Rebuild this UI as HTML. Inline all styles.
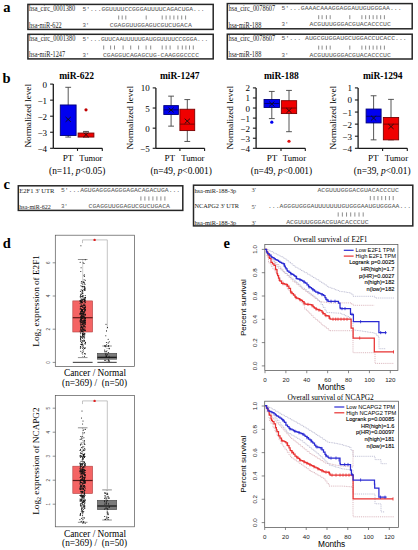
<!DOCTYPE html>
<html><head><meta charset="utf-8"><style>
html,body{margin:0;padding:0;background:#fff;}
svg{display:block;}
text{white-space:pre;}
</style></head><body>
<svg width="418" height="550" viewBox="0 0 418 550">
<rect width="418" height="550" fill="#fff"/>
<text x="3.2" y="11.6" font-size="14.5" font-family="Liberation Serif" fill="#000" text-anchor="start" font-weight="bold" >a</text>
<text x="2.4" y="82.5" font-size="14.5" font-family="Liberation Serif" fill="#000" text-anchor="start" font-weight="bold" >b</text>
<text x="3.4" y="188.8" font-size="14.5" font-family="Liberation Serif" fill="#000" text-anchor="start" font-weight="bold" >c</text>
<text x="2.8" y="248.3" font-size="14.5" font-family="Liberation Serif" fill="#000" text-anchor="start" font-weight="bold" >d</text>
<text x="223.6" y="248.3" font-size="14.5" font-family="Liberation Serif" fill="#000" text-anchor="start" font-weight="bold" >e</text>
<rect x="27.9" y="4.4" width="185.29999999999998" height="25.0" stroke="#262626" stroke-width="1.5" fill="none" />
<text x="29.099999999999998" y="11.2" font-size="7.5" font-family="Liberation Serif" fill="#1a1a1a" textLength="46.0" lengthAdjust="spacingAndGlyphs">hsa_circ_0001380</text>
<text x="29.099999999999998" y="28.0" font-size="7.5" font-family="Liberation Serif" fill="#1a1a1a" textLength="32.6" lengthAdjust="spacingAndGlyphs">hsa-miR-622</text>
<text x="82.4" y="10.8" font-size="5.8" font-family="Liberation Mono" fill="#555555" textLength="122.19999999999999" lengthAdjust="spacingAndGlyphs">5'...GGUUUUCCGGGAUUUUCAGACUGA...</text>
<text x="82.4" y="27.4" font-size="5.8" font-family="Liberation Mono" fill="#555555" text-anchor="start" font-weight="normal" >3'</text>
<text x="109.8" y="27.4" font-size="5.8" font-family="Liberation Mono" fill="#555555" textLength="82.00000000000001" lengthAdjust="spacingAndGlyphs">CGAGGUUGGAGUCGUCUGACA</text>
<line x1="118.7" y1="15.5" x2="118.7" y2="19.5" stroke="#7a7a7a" stroke-width="0.85" />
<line x1="122.2" y1="15.5" x2="122.2" y2="19.5" stroke="#7a7a7a" stroke-width="0.85" />
<line x1="125.8" y1="15.5" x2="125.8" y2="19.5" stroke="#7a7a7a" stroke-width="0.85" />
<line x1="146.2" y1="15.5" x2="146.2" y2="19.5" stroke="#7a7a7a" stroke-width="0.85" />
<line x1="162.2" y1="15.5" x2="162.2" y2="19.5" stroke="#7a7a7a" stroke-width="0.85" />
<line x1="166.1" y1="15.5" x2="166.1" y2="19.5" stroke="#7a7a7a" stroke-width="0.85" />
<line x1="170.0" y1="15.5" x2="170.0" y2="19.5" stroke="#7a7a7a" stroke-width="0.85" />
<line x1="173.89999999999998" y1="15.5" x2="173.89999999999998" y2="19.5" stroke="#7a7a7a" stroke-width="0.85" />
<line x1="177.79999999999998" y1="15.5" x2="177.79999999999998" y2="19.5" stroke="#7a7a7a" stroke-width="0.85" />
<line x1="181.7" y1="15.5" x2="181.7" y2="19.5" stroke="#7a7a7a" stroke-width="0.85" />
<line x1="185.6" y1="15.5" x2="185.6" y2="19.5" stroke="#7a7a7a" stroke-width="0.85" />
<rect x="27.9" y="34.3" width="185.29999999999998" height="24.6" stroke="#262626" stroke-width="1.5" fill="none" />
<text x="29.099999999999998" y="40.9" font-size="7.5" font-family="Liberation Serif" fill="#1a1a1a" textLength="46.2" lengthAdjust="spacingAndGlyphs">hsa_circ_0001380</text>
<text x="29.099999999999998" y="57.4" font-size="7.5" font-family="Liberation Serif" fill="#1a1a1a" textLength="36.0" lengthAdjust="spacingAndGlyphs">hsa-miR-1247</text>
<text x="82.4" y="40.5" font-size="5.8" font-family="Liberation Mono" fill="#555555" textLength="125.79999999999998" lengthAdjust="spacingAndGlyphs">5'...GUUCAAUUUUUGAUGGUUUUCCGGGA...</text>
<text x="82.4" y="57.0" font-size="5.8" font-family="Liberation Mono" fill="#555555" text-anchor="start" font-weight="normal" >3'</text>
<text x="103" y="57.0" font-size="5.8" font-family="Liberation Mono" fill="#555555" textLength="96" lengthAdjust="spacingAndGlyphs">CGAGGUCAGAGCUG-CAAGGGCCCC</text>
<line x1="103.7" y1="45.5" x2="103.7" y2="49.5" stroke="#7a7a7a" stroke-width="0.85" />
<line x1="110.6" y1="45.5" x2="110.6" y2="49.5" stroke="#7a7a7a" stroke-width="0.85" />
<line x1="114.5" y1="45.5" x2="114.5" y2="49.5" stroke="#7a7a7a" stroke-width="0.85" />
<line x1="123.1" y1="45.5" x2="123.1" y2="49.5" stroke="#7a7a7a" stroke-width="0.85" />
<line x1="130.7" y1="45.5" x2="130.7" y2="49.5" stroke="#7a7a7a" stroke-width="0.85" />
<line x1="138.6" y1="45.5" x2="138.6" y2="49.5" stroke="#7a7a7a" stroke-width="0.85" />
<line x1="146.1" y1="45.5" x2="146.1" y2="49.5" stroke="#7a7a7a" stroke-width="0.85" />
<line x1="150.7" y1="45.5" x2="150.7" y2="49.5" stroke="#7a7a7a" stroke-width="0.85" />
<line x1="162.2" y1="45.5" x2="162.2" y2="49.5" stroke="#7a7a7a" stroke-width="0.85" />
<line x1="166.1" y1="45.5" x2="166.1" y2="49.5" stroke="#7a7a7a" stroke-width="0.85" />
<line x1="170.1" y1="45.5" x2="170.1" y2="49.5" stroke="#7a7a7a" stroke-width="0.85" />
<line x1="178" y1="45.5" x2="178" y2="49.5" stroke="#7a7a7a" stroke-width="0.85" />
<line x1="182.3" y1="45.5" x2="182.3" y2="49.5" stroke="#7a7a7a" stroke-width="0.85" />
<line x1="185.9" y1="45.5" x2="185.9" y2="49.5" stroke="#7a7a7a" stroke-width="0.85" />
<line x1="189.5" y1="45.5" x2="189.5" y2="49.5" stroke="#7a7a7a" stroke-width="0.85" />
<line x1="193.3" y1="45.5" x2="193.3" y2="49.5" stroke="#7a7a7a" stroke-width="0.85" />
<rect x="227.3" y="3.6" width="184.89999999999998" height="25.2" stroke="#262626" stroke-width="1.5" fill="none" />
<text x="228.5" y="11.2" font-size="7.5" font-family="Liberation Serif" fill="#1a1a1a" textLength="46.7" lengthAdjust="spacingAndGlyphs">hsa_circ_0078607</text>
<text x="228.5" y="27.6" font-size="7.5" font-family="Liberation Serif" fill="#1a1a1a" textLength="32.8" lengthAdjust="spacingAndGlyphs">hsa-miR-188</text>
<text x="281.5" y="10.3" font-size="5.8" font-family="Liberation Mono" fill="#555555" textLength="120.10000000000002" lengthAdjust="spacingAndGlyphs">5'...GAAACAAAGGAGGAUUGUGGGAA...</text>
<text x="281.5" y="26.4" font-size="5.8" font-family="Liberation Mono" fill="#555555" text-anchor="start" font-weight="normal" >3'</text>
<text x="309.6" y="26.4" font-size="5.8" font-family="Liberation Mono" fill="#555555" textLength="81.19999999999999" lengthAdjust="spacingAndGlyphs">ACGUUUGGGACGUACACCCUC</text>
<line x1="318.7" y1="15.2" x2="318.7" y2="19.2" stroke="#7a7a7a" stroke-width="0.85" />
<line x1="322.1" y1="15.2" x2="322.1" y2="19.2" stroke="#7a7a7a" stroke-width="0.85" />
<line x1="326.4" y1="15.2" x2="326.4" y2="19.2" stroke="#7a7a7a" stroke-width="0.85" />
<line x1="330.2" y1="15.2" x2="330.2" y2="19.2" stroke="#7a7a7a" stroke-width="0.85" />
<line x1="349.8" y1="15.2" x2="349.8" y2="19.2" stroke="#7a7a7a" stroke-width="0.85" />
<line x1="361.9" y1="15.2" x2="361.9" y2="19.2" stroke="#7a7a7a" stroke-width="0.85" />
<line x1="365.65" y1="15.2" x2="365.65" y2="19.2" stroke="#7a7a7a" stroke-width="0.85" />
<line x1="369.4" y1="15.2" x2="369.4" y2="19.2" stroke="#7a7a7a" stroke-width="0.85" />
<line x1="373.15" y1="15.2" x2="373.15" y2="19.2" stroke="#7a7a7a" stroke-width="0.85" />
<line x1="376.9" y1="15.2" x2="376.9" y2="19.2" stroke="#7a7a7a" stroke-width="0.85" />
<line x1="380.65" y1="15.2" x2="380.65" y2="19.2" stroke="#7a7a7a" stroke-width="0.85" />
<line x1="384.4" y1="15.2" x2="384.4" y2="19.2" stroke="#7a7a7a" stroke-width="0.85" />
<rect x="227.3" y="34.2" width="184.89999999999998" height="24.799999999999997" stroke="#262626" stroke-width="1.5" fill="none" />
<text x="228.5" y="40.9" font-size="7.5" font-family="Liberation Serif" fill="#1a1a1a" textLength="46.7" lengthAdjust="spacingAndGlyphs">hsa_circ_0078607</text>
<text x="228.5" y="57.4" font-size="7.5" font-family="Liberation Serif" fill="#1a1a1a" textLength="32.8" lengthAdjust="spacingAndGlyphs">hsa-miR-188</text>
<text x="281.5" y="40.3" font-size="5.8" font-family="Liberation Mono" fill="#555555" textLength="125.30000000000001" lengthAdjust="spacingAndGlyphs">5'... AUGCGUGGAUGCUGGACCUCACC...</text>
<text x="281.5" y="56.6" font-size="5.8" font-family="Liberation Mono" fill="#555555" text-anchor="start" font-weight="normal" >3'</text>
<text x="309.6" y="56.6" font-size="5.8" font-family="Liberation Mono" fill="#555555" textLength="81.19999999999999" lengthAdjust="spacingAndGlyphs">ACGUUUGGGACGUACACCCUC</text>
<line x1="318.7" y1="45.6" x2="318.7" y2="49.6" stroke="#7a7a7a" stroke-width="0.85" />
<line x1="322.1" y1="45.6" x2="322.1" y2="49.6" stroke="#7a7a7a" stroke-width="0.85" />
<line x1="326.4" y1="45.6" x2="326.4" y2="49.6" stroke="#7a7a7a" stroke-width="0.85" />
<line x1="330.2" y1="45.6" x2="330.2" y2="49.6" stroke="#7a7a7a" stroke-width="0.85" />
<line x1="349.8" y1="45.6" x2="349.8" y2="49.6" stroke="#7a7a7a" stroke-width="0.85" />
<line x1="361.9" y1="45.6" x2="361.9" y2="49.6" stroke="#7a7a7a" stroke-width="0.85" />
<line x1="365.65" y1="45.6" x2="365.65" y2="49.6" stroke="#7a7a7a" stroke-width="0.85" />
<line x1="369.4" y1="45.6" x2="369.4" y2="49.6" stroke="#7a7a7a" stroke-width="0.85" />
<line x1="373.15" y1="45.6" x2="373.15" y2="49.6" stroke="#7a7a7a" stroke-width="0.85" />
<line x1="376.9" y1="45.6" x2="376.9" y2="49.6" stroke="#7a7a7a" stroke-width="0.85" />
<line x1="380.65" y1="45.6" x2="380.65" y2="49.6" stroke="#7a7a7a" stroke-width="0.85" />
<line x1="384.4" y1="45.6" x2="384.4" y2="49.6" stroke="#7a7a7a" stroke-width="0.85" />
<line x1="53.3" y1="84.1" x2="53.3" y2="148.3" stroke="#1a1a1a" stroke-width="1.3" />
<line x1="53.3" y1="148.3" x2="102.3" y2="148.3" stroke="#1a1a1a" stroke-width="1.3" />
<line x1="50.099999999999994" y1="148.3" x2="53.3" y2="148.3" stroke="#1a1a1a" stroke-width="1.1" />
<text x="47.099999999999994" y="151.8" font-size="9" font-family="Liberation Serif" fill="#000" text-anchor="end" font-weight="normal" >−4</text>
<line x1="50.099999999999994" y1="132.25" x2="53.3" y2="132.25" stroke="#1a1a1a" stroke-width="1.1" />
<text x="47.099999999999994" y="135.75" font-size="9" font-family="Liberation Serif" fill="#000" text-anchor="end" font-weight="normal" >−3</text>
<line x1="50.099999999999994" y1="116.2" x2="53.3" y2="116.2" stroke="#1a1a1a" stroke-width="1.1" />
<text x="47.099999999999994" y="119.7" font-size="9" font-family="Liberation Serif" fill="#000" text-anchor="end" font-weight="normal" >−2</text>
<line x1="50.099999999999994" y1="100.15" x2="53.3" y2="100.15" stroke="#1a1a1a" stroke-width="1.1" />
<text x="47.099999999999994" y="103.65" font-size="9" font-family="Liberation Serif" fill="#000" text-anchor="end" font-weight="normal" >−1</text>
<line x1="50.099999999999994" y1="84.1" x2="53.3" y2="84.1" stroke="#1a1a1a" stroke-width="1.1" />
<text x="47.099999999999994" y="87.6" font-size="9" font-family="Liberation Serif" fill="#000" text-anchor="end" font-weight="normal" >0</text>
<line x1="77.5" y1="148.3" x2="77.5" y2="150.9" stroke="#1a1a1a" stroke-width="1.1" />
<line x1="102.3" y1="148.3" x2="102.3" y2="150.9" stroke="#1a1a1a" stroke-width="1.1" />
<text x="76.6" y="79.3" font-size="9.5" font-family="Liberation Serif" fill="#000" text-anchor="middle" font-weight="bold" >miR-622</text>
<text transform="translate(30.9,115.8) rotate(-90)" font-size="9.2" font-family="Liberation Serif" text-anchor="middle">Normalized level</text>
<line x1="68.2" y1="87.31" x2="68.2" y2="137.065" stroke="#444" stroke-width="0.9" />
<line x1="65.3" y1="87.31" x2="71.10000000000001" y2="87.31" stroke="#444" stroke-width="0.9" />
<line x1="65.3" y1="137.065" x2="71.10000000000001" y2="137.065" stroke="#444" stroke-width="0.9" />
<rect x="60.300000000000004" y="104.965" width="15.800000000000004" height="30.495000000000005" stroke="#00007a" stroke-width="0.9" fill="#0000f0" />
<path d="M65.60000000000001,117.01L70.8,121.81000000000002M65.60000000000001,121.81000000000002L70.8,117.01" stroke="#111" stroke-width="0.9"/>
<line x1="86.0" y1="131.44750000000002" x2="86.0" y2="137.065" stroke="#444" stroke-width="0.9" />
<line x1="83.1" y1="131.44750000000002" x2="88.9" y2="131.44750000000002" stroke="#444" stroke-width="0.9" />
<line x1="83.1" y1="137.065" x2="88.9" y2="137.065" stroke="#444" stroke-width="0.9" />
<rect x="78.1" y="133.0525" width="15.800000000000011" height="4.012499999999989" stroke="#7a0000" stroke-width="0.9" fill="#f00000" />
<path d="M83.4,132.2575L88.6,137.0575M83.4,137.0575L88.6,132.2575" stroke="#111" stroke-width="0.9"/>
<circle cx="86.0" cy="109.78" r="1.6" fill="#c00000"/>
<text x="62.8" y="160.8" font-size="9.1" font-family="Liberation Serif" fill="#000" text-anchor="start" font-weight="normal" >PT</text>
<text x="79.2" y="160.8" font-size="9.1" font-family="Liberation Serif" textLength="23.3" lengthAdjust="spacingAndGlyphs">Tumor</text>
<text x="77.2" y="173.6" font-size="9.4" font-family="Liberation Serif" text-anchor="middle">(n=11, <tspan font-style="italic">p</tspan>&lt;0.05)</text>
<line x1="155.9" y1="87.9" x2="155.9" y2="148.3" stroke="#1a1a1a" stroke-width="1.3" />
<line x1="155.9" y1="148.3" x2="204.6" y2="148.3" stroke="#1a1a1a" stroke-width="1.3" />
<line x1="152.70000000000002" y1="148.3" x2="155.9" y2="148.3" stroke="#1a1a1a" stroke-width="1.1" />
<text x="149.70000000000002" y="151.8" font-size="9" font-family="Liberation Serif" fill="#000" text-anchor="end" font-weight="normal" >−5</text>
<line x1="152.70000000000002" y1="128.16666666666669" x2="155.9" y2="128.16666666666669" stroke="#1a1a1a" stroke-width="1.1" />
<text x="149.70000000000002" y="131.66666666666669" font-size="9" font-family="Liberation Serif" fill="#000" text-anchor="end" font-weight="normal" >0</text>
<line x1="152.70000000000002" y1="108.03333333333333" x2="155.9" y2="108.03333333333333" stroke="#1a1a1a" stroke-width="1.1" />
<text x="149.70000000000002" y="111.53333333333333" font-size="9" font-family="Liberation Serif" fill="#000" text-anchor="end" font-weight="normal" >5</text>
<line x1="152.70000000000002" y1="87.9" x2="155.9" y2="87.9" stroke="#1a1a1a" stroke-width="1.1" />
<text x="149.70000000000002" y="91.4" font-size="9" font-family="Liberation Serif" fill="#000" text-anchor="end" font-weight="normal" >10</text>
<line x1="179.9" y1="148.3" x2="179.9" y2="150.9" stroke="#1a1a1a" stroke-width="1.1" />
<line x1="204.6" y1="148.3" x2="204.6" y2="150.9" stroke="#1a1a1a" stroke-width="1.1" />
<text x="179.7" y="79.3" font-size="9.5" font-family="Liberation Serif" fill="#000" text-anchor="middle" font-weight="bold" >miR-1247</text>
<text transform="translate(133.2,117.7) rotate(-90)" font-size="9.2" font-family="Liberation Serif" text-anchor="middle">Normalized level</text>
<line x1="171.1" y1="96.15466666666667" x2="171.1" y2="126.15333333333334" stroke="#444" stroke-width="0.9" />
<line x1="168.2" y1="96.15466666666667" x2="174.0" y2="96.15466666666667" stroke="#444" stroke-width="0.9" />
<line x1="168.2" y1="126.15333333333334" x2="174.0" y2="126.15333333333334" stroke="#444" stroke-width="0.9" />
<rect x="163.79999999999998" y="105.61733333333333" width="14.600000000000023" height="8.858666666666664" stroke="#00007a" stroke-width="0.9" fill="#0000f0" />
<line x1="163.79999999999998" y1="109.84533333333334" x2="178.4" y2="109.84533333333334" stroke="#00007a" stroke-width="1.0" />
<path d="M168.5,107.64666666666668L173.7,112.44666666666669M168.5,112.44666666666669L173.7,107.64666666666668" stroke="#111" stroke-width="0.9"/>
<line x1="187.3" y1="99.57733333333334" x2="187.3" y2="141.45466666666667" stroke="#444" stroke-width="0.9" />
<line x1="184.4" y1="99.57733333333334" x2="190.20000000000002" y2="99.57733333333334" stroke="#444" stroke-width="0.9" />
<line x1="184.4" y1="141.45466666666667" x2="190.20000000000002" y2="141.45466666666667" stroke="#444" stroke-width="0.9" />
<rect x="179.9" y="109.24133333333334" width="14.800000000000011" height="21.34133333333334" stroke="#7a0000" stroke-width="0.9" fill="#f00000" />
<line x1="179.9" y1="124.14000000000001" x2="194.70000000000002" y2="124.14000000000001" stroke="#7a0000" stroke-width="1.0" />
<path d="M184.70000000000002,118.72L189.9,123.52000000000001M184.70000000000002,123.52000000000001L189.9,118.72" stroke="#111" stroke-width="0.9"/>
<text x="164.4" y="160.8" font-size="9.1" font-family="Liberation Serif" fill="#000" text-anchor="start" font-weight="normal" >PT</text>
<text x="181.2" y="160.8" font-size="9.1" font-family="Liberation Serif" textLength="23.3" lengthAdjust="spacingAndGlyphs">Tumor</text>
<text x="181.2" y="173.6" font-size="9.4" font-family="Liberation Serif" text-anchor="middle">(n=49, <tspan font-style="italic">p</tspan>&lt;0.001)</text>
<line x1="256.1" y1="87.9" x2="256.1" y2="148.3" stroke="#1a1a1a" stroke-width="1.3" />
<line x1="256.1" y1="148.3" x2="305.3" y2="148.3" stroke="#1a1a1a" stroke-width="1.3" />
<line x1="252.90000000000003" y1="148.3" x2="256.1" y2="148.3" stroke="#1a1a1a" stroke-width="1.1" />
<text x="249.90000000000003" y="151.8" font-size="9" font-family="Liberation Serif" fill="#000" text-anchor="end" font-weight="normal" >−4</text>
<line x1="252.90000000000003" y1="138.23333333333335" x2="256.1" y2="138.23333333333335" stroke="#1a1a1a" stroke-width="1.1" />
<text x="249.90000000000003" y="141.73333333333335" font-size="9" font-family="Liberation Serif" fill="#000" text-anchor="end" font-weight="normal" >−3</text>
<line x1="252.90000000000003" y1="128.16666666666669" x2="256.1" y2="128.16666666666669" stroke="#1a1a1a" stroke-width="1.1" />
<text x="249.90000000000003" y="131.66666666666669" font-size="9" font-family="Liberation Serif" fill="#000" text-anchor="end" font-weight="normal" >−2</text>
<line x1="252.90000000000003" y1="118.10000000000001" x2="256.1" y2="118.10000000000001" stroke="#1a1a1a" stroke-width="1.1" />
<text x="249.90000000000003" y="121.60000000000001" font-size="9" font-family="Liberation Serif" fill="#000" text-anchor="end" font-weight="normal" >−1</text>
<line x1="252.90000000000003" y1="108.03333333333333" x2="256.1" y2="108.03333333333333" stroke="#1a1a1a" stroke-width="1.1" />
<text x="249.90000000000003" y="111.53333333333333" font-size="9" font-family="Liberation Serif" fill="#000" text-anchor="end" font-weight="normal" >0</text>
<line x1="252.90000000000003" y1="97.96666666666667" x2="256.1" y2="97.96666666666667" stroke="#1a1a1a" stroke-width="1.1" />
<text x="249.90000000000003" y="101.46666666666667" font-size="9" font-family="Liberation Serif" fill="#000" text-anchor="end" font-weight="normal" >1</text>
<line x1="252.90000000000003" y1="87.9" x2="256.1" y2="87.9" stroke="#1a1a1a" stroke-width="1.1" />
<text x="249.90000000000003" y="91.4" font-size="9" font-family="Liberation Serif" fill="#000" text-anchor="end" font-weight="normal" >2</text>
<line x1="281" y1="148.3" x2="281" y2="150.9" stroke="#1a1a1a" stroke-width="1.1" />
<line x1="305.3" y1="148.3" x2="305.3" y2="150.9" stroke="#1a1a1a" stroke-width="1.1" />
<text x="281.3" y="79.3" font-size="9.5" font-family="Liberation Serif" fill="#000" text-anchor="middle" font-weight="bold" >miR-188</text>
<text transform="translate(233.2,117.7) rotate(-90)" font-size="9.2" font-family="Liberation Serif" text-anchor="middle">Normalized level</text>
<line x1="271.8" y1="91.42333333333333" x2="271.8" y2="118.60333333333334" stroke="#444" stroke-width="0.9" />
<line x1="268.90000000000003" y1="91.42333333333333" x2="274.7" y2="91.42333333333333" stroke="#444" stroke-width="0.9" />
<line x1="268.90000000000003" y1="118.60333333333334" x2="274.7" y2="118.60333333333334" stroke="#444" stroke-width="0.9" />
<rect x="264.05" y="99.47666666666667" width="15.5" height="8.053333333333327" stroke="#00007a" stroke-width="0.9" fill="#0000f0" />
<line x1="264.05" y1="103.50333333333333" x2="279.55" y2="103.50333333333333" stroke="#00007a" stroke-width="1.0" />
<path d="M269.2,101.60666666666665L274.40000000000003,106.40666666666667M269.2,106.40666666666667L274.40000000000003,101.60666666666665" stroke="#111" stroke-width="0.9"/>
<circle cx="271.8" cy="122.12666666666667" r="1.6" fill="#0000f0"/>
<line x1="289.0" y1="90.41666666666667" x2="289.0" y2="131.69" stroke="#444" stroke-width="0.9" />
<line x1="286.1" y1="90.41666666666667" x2="291.9" y2="90.41666666666667" stroke="#444" stroke-width="0.9" />
<line x1="286.1" y1="131.69" x2="291.9" y2="131.69" stroke="#444" stroke-width="0.9" />
<rect x="281.35" y="100.68466666666666" width="15.299999999999955" height="12.88533333333335" stroke="#7a0000" stroke-width="0.9" fill="#f00000" />
<line x1="281.35" y1="108.03333333333333" x2="296.65" y2="108.03333333333333" stroke="#7a0000" stroke-width="1.0" />
<path d="M286.4,108.15L291.6,112.95000000000002M286.4,112.95000000000002L291.6,108.15" stroke="#111" stroke-width="0.9"/>
<circle cx="289.0" cy="141.25333333333333" r="1.6" fill="#e01010"/>
<text x="266.8" y="160.8" font-size="9.1" font-family="Liberation Serif" fill="#000" text-anchor="start" font-weight="normal" >PT</text>
<text x="282.8" y="160.8" font-size="9.1" font-family="Liberation Serif" textLength="23.3" lengthAdjust="spacingAndGlyphs">Tumor</text>
<text x="281.5" y="173.6" font-size="9.4" font-family="Liberation Serif" text-anchor="middle">(n=49, <tspan font-style="italic">p</tspan>&lt;0.001)</text>
<line x1="358.1" y1="87.9" x2="358.1" y2="148.3" stroke="#1a1a1a" stroke-width="1.3" />
<line x1="358.1" y1="148.3" x2="407.3" y2="148.3" stroke="#1a1a1a" stroke-width="1.3" />
<line x1="354.90000000000003" y1="148.3" x2="358.1" y2="148.3" stroke="#1a1a1a" stroke-width="1.1" />
<text x="351.90000000000003" y="151.8" font-size="9" font-family="Liberation Serif" fill="#000" text-anchor="end" font-weight="normal" >−4</text>
<line x1="354.90000000000003" y1="136.22" x2="358.1" y2="136.22" stroke="#1a1a1a" stroke-width="1.1" />
<text x="351.90000000000003" y="139.72" font-size="9" font-family="Liberation Serif" fill="#000" text-anchor="end" font-weight="normal" >−3</text>
<line x1="354.90000000000003" y1="124.14000000000001" x2="358.1" y2="124.14000000000001" stroke="#1a1a1a" stroke-width="1.1" />
<text x="351.90000000000003" y="127.64000000000001" font-size="9" font-family="Liberation Serif" fill="#000" text-anchor="end" font-weight="normal" >−2</text>
<line x1="354.90000000000003" y1="112.06" x2="358.1" y2="112.06" stroke="#1a1a1a" stroke-width="1.1" />
<text x="351.90000000000003" y="115.56" font-size="9" font-family="Liberation Serif" fill="#000" text-anchor="end" font-weight="normal" >−1</text>
<line x1="354.90000000000003" y1="99.98" x2="358.1" y2="99.98" stroke="#1a1a1a" stroke-width="1.1" />
<text x="351.90000000000003" y="103.48" font-size="9" font-family="Liberation Serif" fill="#000" text-anchor="end" font-weight="normal" >0</text>
<line x1="354.90000000000003" y1="87.9" x2="358.1" y2="87.9" stroke="#1a1a1a" stroke-width="1.1" />
<text x="351.90000000000003" y="91.4" font-size="9" font-family="Liberation Serif" fill="#000" text-anchor="end" font-weight="normal" >1</text>
<line x1="382.6" y1="148.3" x2="382.6" y2="150.9" stroke="#1a1a1a" stroke-width="1.1" />
<line x1="407.3" y1="148.3" x2="407.3" y2="150.9" stroke="#1a1a1a" stroke-width="1.1" />
<text x="382.7" y="79.3" font-size="9.5" font-family="Liberation Serif" fill="#000" text-anchor="middle" font-weight="bold" >miR-1294</text>
<text transform="translate(336.2,117.7) rotate(-90)" font-size="9.2" font-family="Liberation Serif" text-anchor="middle">Normalized level</text>
<line x1="373.6" y1="95.75200000000001" x2="373.6" y2="139.844" stroke="#444" stroke-width="0.9" />
<line x1="370.70000000000005" y1="95.75200000000001" x2="376.5" y2="95.75200000000001" stroke="#444" stroke-width="0.9" />
<line x1="370.70000000000005" y1="139.844" x2="376.5" y2="139.844" stroke="#444" stroke-width="0.9" />
<rect x="366.1" y="109.04" width="15.0" height="13.891999999999996" stroke="#00007a" stroke-width="0.9" fill="#0000f0" />
<line x1="366.1" y1="116.28800000000001" x2="381.1" y2="116.28800000000001" stroke="#00007a" stroke-width="1.0" />
<path d="M371.0,115.7L376.20000000000005,120.50000000000001M371.0,120.50000000000001L376.20000000000005,115.7" stroke="#111" stroke-width="0.9"/>
<line x1="391.0" y1="99.376" x2="391.0" y2="139.844" stroke="#444" stroke-width="0.9" />
<line x1="388.1" y1="99.376" x2="393.9" y2="99.376" stroke="#444" stroke-width="0.9" />
<line x1="388.1" y1="139.844" x2="393.9" y2="139.844" stroke="#444" stroke-width="0.9" />
<rect x="383.35" y="117.49600000000001" width="15.299999999999955" height="22.347999999999985" stroke="#7a0000" stroke-width="0.9" fill="#f00000" />
<line x1="383.35" y1="124.14000000000001" x2="398.65" y2="124.14000000000001" stroke="#7a0000" stroke-width="1.0" />
<path d="M388.4,124.156L393.6,128.95600000000002M388.4,128.95600000000002L393.6,124.156" stroke="#111" stroke-width="0.9"/>
<text x="368.0" y="160.8" font-size="9.1" font-family="Liberation Serif" fill="#000" text-anchor="start" font-weight="normal" >PT</text>
<text x="384.8" y="160.8" font-size="9.1" font-family="Liberation Serif" textLength="23.3" lengthAdjust="spacingAndGlyphs">Tumor</text>
<text x="382.2" y="173.6" font-size="9.4" font-family="Liberation Serif" text-anchor="middle">(n=39, <tspan font-style="italic">p</tspan>&lt;0.01)</text>
<rect x="18.3" y="185.8" width="164.5" height="24.599999999999994" stroke="#262626" stroke-width="1.5" fill="none" />
<text x="19.3" y="192.5" font-size="6.9" font-family="Liberation Serif" fill="#1a1a1a" textLength="35.2" lengthAdjust="spacingAndGlyphs">E2F1 3' UTR</text>
<text x="19.3" y="209.2" font-size="7.1" font-family="Liberation Serif" fill="#1a1a1a" textLength="31.6" lengthAdjust="spacingAndGlyphs">hsa-miR-622</text>
<text x="60.9" y="208.2" font-size="5.8" font-family="Liberation Mono" fill="#555555" text-anchor="start" font-weight="normal" >3'</text>
<text x="60.9" y="191.9" font-size="5.8" font-family="Liberation Mono" fill="#555555" textLength="119.29999999999998" lengthAdjust="spacingAndGlyphs">5'...AGUGAGGGAGGGAGACAGACUGA...</text>
<line x1="140.9" y1="196.4" x2="140.9" y2="200.6" stroke="#7a7a7a" stroke-width="0.85" />
<line x1="144.9" y1="196.4" x2="144.9" y2="200.6" stroke="#7a7a7a" stroke-width="0.85" />
<line x1="148.9" y1="196.4" x2="148.9" y2="200.6" stroke="#7a7a7a" stroke-width="0.85" />
<line x1="152.9" y1="196.4" x2="152.9" y2="200.6" stroke="#7a7a7a" stroke-width="0.85" />
<line x1="156.9" y1="196.4" x2="156.9" y2="200.6" stroke="#7a7a7a" stroke-width="0.85" />
<line x1="160.9" y1="196.4" x2="160.9" y2="200.6" stroke="#7a7a7a" stroke-width="0.85" />
<line x1="164.9" y1="196.4" x2="164.9" y2="200.6" stroke="#7a7a7a" stroke-width="0.85" />
<text x="88.5" y="208.2" font-size="5.8" font-family="Liberation Mono" fill="#555555" textLength="81.5" lengthAdjust="spacingAndGlyphs">CGAGGUUGGAGUCGUCUGACA</text>
<rect x="193.5" y="185.2" width="219.3" height="40.70000000000002" stroke="#262626" stroke-width="1.5" fill="none" />
<text x="194.4" y="193.3" font-size="6.8" font-family="Liberation Serif" fill="#1a1a1a" textLength="41.9" lengthAdjust="spacingAndGlyphs">hsa-miR-188-3p</text>
<text x="194.4" y="208.1" font-size="6.6" font-family="Liberation Serif" fill="#1a1a1a" textLength="44.6" lengthAdjust="spacingAndGlyphs">NCAPG2 3' UTR</text>
<text x="194.4" y="224.8" font-size="6.8" font-family="Liberation Serif" fill="#1a1a1a" textLength="41.9" lengthAdjust="spacingAndGlyphs">hsa-miR-188-3p</text>
<text x="251.6" y="192.4" font-size="6.4" font-family="Liberation Serif" fill="#444" text-anchor="start" font-weight="normal" >3′</text>
<text x="251.6" y="208.6" font-size="6.4" font-family="Liberation Serif" fill="#444" text-anchor="start" font-weight="normal" >5′</text>
<text x="251.6" y="224.5" font-size="6.4" font-family="Liberation Serif" fill="#444" text-anchor="start" font-weight="normal" >3′</text>
<text x="317.5" y="192.3" font-size="5.8" font-family="Liberation Mono" fill="#555555" textLength="81.30000000000001" lengthAdjust="spacingAndGlyphs">ACGUUUGGGACGUACACCCUC</text>
<line x1="370.3" y1="196" x2="370.3" y2="200.2" stroke="#7a7a7a" stroke-width="0.85" />
<line x1="374.1166666666667" y1="196" x2="374.1166666666667" y2="200.2" stroke="#7a7a7a" stroke-width="0.85" />
<line x1="377.93333333333334" y1="196" x2="377.93333333333334" y2="200.2" stroke="#7a7a7a" stroke-width="0.85" />
<line x1="381.75" y1="196" x2="381.75" y2="200.2" stroke="#7a7a7a" stroke-width="0.85" />
<line x1="385.56666666666666" y1="196" x2="385.56666666666666" y2="200.2" stroke="#7a7a7a" stroke-width="0.85" />
<line x1="389.3833333333333" y1="196" x2="389.3833333333333" y2="200.2" stroke="#7a7a7a" stroke-width="0.85" />
<line x1="393.2" y1="196" x2="393.2" y2="200.2" stroke="#7a7a7a" stroke-width="0.85" />
<text x="268.0" y="208.4" font-size="5.8" font-family="Liberation Mono" fill="#555555" textLength="143.0" lengthAdjust="spacingAndGlyphs">...AGGGUGGGAUUUUUUUGUGGGAAUGUGGGAA...</text>
<line x1="338.2" y1="212.4" x2="338.2" y2="216.6" stroke="#7a7a7a" stroke-width="0.85" />
<line x1="342.3666666666667" y1="212.4" x2="342.3666666666667" y2="216.6" stroke="#7a7a7a" stroke-width="0.85" />
<line x1="346.5333333333333" y1="212.4" x2="346.5333333333333" y2="216.6" stroke="#7a7a7a" stroke-width="0.85" />
<line x1="350.7" y1="212.4" x2="350.7" y2="216.6" stroke="#7a7a7a" stroke-width="0.85" />
<line x1="354.8666666666667" y1="212.4" x2="354.8666666666667" y2="216.6" stroke="#7a7a7a" stroke-width="0.85" />
<line x1="359.0333333333333" y1="212.4" x2="359.0333333333333" y2="216.6" stroke="#7a7a7a" stroke-width="0.85" />
<line x1="363.2" y1="212.4" x2="363.2" y2="216.6" stroke="#7a7a7a" stroke-width="0.85" />
<text x="286.2" y="223.8" font-size="5.8" font-family="Liberation Mono" fill="#555555" textLength="82.40000000000003" lengthAdjust="spacingAndGlyphs">ACGUUUGGGACGUACACCCUC</text>
<rect x="55.3" y="235.2" width="79.2" height="131.40000000000003" stroke="#555" stroke-width="0.7" fill="none" />
<line x1="52.699999999999996" y1="362.4" x2="55.3" y2="362.4" stroke="#444" stroke-width="0.6" />
<text transform="translate(50.3,362.4) rotate(-90)" font-size="4.6" font-family="Liberation Sans" text-anchor="middle" fill="#444">0</text>
<line x1="52.699999999999996" y1="329.2" x2="55.3" y2="329.2" stroke="#444" stroke-width="0.6" />
<text transform="translate(50.3,329.2) rotate(-90)" font-size="4.6" font-family="Liberation Sans" text-anchor="middle" fill="#444">2</text>
<line x1="52.699999999999996" y1="296.0" x2="55.3" y2="296.0" stroke="#444" stroke-width="0.6" />
<text transform="translate(50.3,296.0) rotate(-90)" font-size="4.6" font-family="Liberation Sans" text-anchor="middle" fill="#444">4</text>
<line x1="52.699999999999996" y1="262.79999999999995" x2="55.3" y2="262.79999999999995" stroke="#444" stroke-width="0.6" />
<text transform="translate(50.3,262.79999999999995) rotate(-90)" font-size="4.6" font-family="Liberation Sans" text-anchor="middle" fill="#444">6</text>
<text transform="translate(38.8,300.9) rotate(-90)" font-size="9.2" font-family="Liberation Serif" text-anchor="middle">Log<tspan font-size="6" dy="2">2</tspan><tspan dy="-2"> expression of E2F1</tspan></text>
<polyline points="82.5,243.1 82.5,239.9 107.3,239.9 107.3,329.0" fill="none" stroke="#aaa" stroke-width="0.7" />
<circle cx="94.6" cy="239.9" r="1.2" fill="#e02020"/>
<line x1="82.69999999999999" y1="259.5" x2="82.69999999999999" y2="300.9" stroke="#444" stroke-width="0.5" stroke-dasharray="1,1"/>
<line x1="82.69999999999999" y1="332" x2="82.69999999999999" y2="357.6" stroke="#444" stroke-width="0.5" stroke-dasharray="1,1"/>
<line x1="77.89999999999999" y1="259.5" x2="87.49999999999999" y2="259.5" stroke="#444" stroke-width="0.6" />
<line x1="77.89999999999999" y1="357.6" x2="87.49999999999999" y2="357.6" stroke="#444" stroke-width="0.6" />
<rect x="72.8" y="300.9" width="19.799999999999997" height="31.100000000000023" stroke="#b04040" stroke-width="0.6" fill="#f46464" />
<line x1="72.8" y1="317.7" x2="92.6" y2="317.7" stroke="#5a1818" stroke-width="1.2" />
<line x1="72.8" y1="362.4" x2="92.6" y2="362.4" stroke="#555" stroke-width="1.2" />
<line x1="107.05000000000001" y1="346.0" x2="107.05000000000001" y2="353.3" stroke="#444" stroke-width="0.5" stroke-dasharray="1,1"/>
<line x1="107.05000000000001" y1="359.2" x2="107.05000000000001" y2="362.4" stroke="#444" stroke-width="0.5" stroke-dasharray="1,1"/>
<line x1="102.25000000000001" y1="346.0" x2="111.85000000000001" y2="346.0" stroke="#444" stroke-width="0.6" />
<line x1="102.25000000000001" y1="362.4" x2="111.85000000000001" y2="362.4" stroke="#444" stroke-width="0.6" />
<rect x="97.4" y="353.3" width="19.299999999999997" height="5.899999999999977" stroke="#444" stroke-width="0.6" fill="#7a7a7a" />
<line x1="97.4" y1="357.3" x2="116.7" y2="357.3" stroke="#111" stroke-width="1.2" />
<line x1="97.4" y1="362.4" x2="116.7" y2="362.4" stroke="#555" stroke-width="1.2" />
<circle cx="83.6" cy="322.1" r="0.55" fill="#111"/>
<circle cx="80.5" cy="306.1" r="0.55" fill="#111"/>
<circle cx="80.4" cy="336.0" r="0.55" fill="#111"/>
<circle cx="82.8" cy="321.2" r="0.55" fill="#111"/>
<circle cx="80.5" cy="295.2" r="0.55" fill="#111"/>
<circle cx="80.6" cy="311.6" r="0.55" fill="#111"/>
<circle cx="80.8" cy="351.3" r="0.55" fill="#111"/>
<circle cx="81.3" cy="299.0" r="0.55" fill="#111"/>
<circle cx="83.2" cy="351.8" r="0.55" fill="#111"/>
<circle cx="82.2" cy="352.9" r="0.55" fill="#111"/>
<circle cx="84.7" cy="310.4" r="0.55" fill="#111"/>
<circle cx="81.7" cy="317.7" r="0.55" fill="#111"/>
<circle cx="81.8" cy="310.3" r="0.55" fill="#111"/>
<circle cx="84.5" cy="308.6" r="0.55" fill="#111"/>
<circle cx="83.6" cy="305.2" r="0.55" fill="#111"/>
<circle cx="82.1" cy="291.9" r="0.55" fill="#111"/>
<circle cx="80.4" cy="323.9" r="0.55" fill="#111"/>
<circle cx="81.2" cy="319.0" r="0.55" fill="#111"/>
<circle cx="81.8" cy="326.0" r="0.55" fill="#111"/>
<circle cx="83.3" cy="336.6" r="0.55" fill="#111"/>
<circle cx="84.4" cy="333.5" r="0.55" fill="#111"/>
<circle cx="83.9" cy="311.7" r="0.55" fill="#111"/>
<circle cx="82.9" cy="315.7" r="0.55" fill="#111"/>
<circle cx="84.8" cy="289.6" r="0.55" fill="#111"/>
<circle cx="85.4" cy="319.0" r="0.55" fill="#111"/>
<circle cx="80.7" cy="333.7" r="0.55" fill="#111"/>
<circle cx="80.9" cy="347.1" r="0.55" fill="#111"/>
<circle cx="82.7" cy="299.6" r="0.55" fill="#111"/>
<circle cx="84.2" cy="286.9" r="0.55" fill="#111"/>
<circle cx="83.2" cy="309.2" r="0.55" fill="#111"/>
<circle cx="83.9" cy="304.0" r="0.55" fill="#111"/>
<circle cx="83.3" cy="329.4" r="0.55" fill="#111"/>
<circle cx="84.6" cy="336.8" r="0.55" fill="#111"/>
<circle cx="85.2" cy="327.8" r="0.55" fill="#111"/>
<circle cx="80.4" cy="347.0" r="0.55" fill="#111"/>
<circle cx="83.9" cy="311.8" r="0.55" fill="#111"/>
<circle cx="84.5" cy="356.2" r="0.55" fill="#111"/>
<circle cx="83.7" cy="321.2" r="0.55" fill="#111"/>
<circle cx="80.2" cy="296.7" r="0.55" fill="#111"/>
<circle cx="80.7" cy="329.0" r="0.55" fill="#111"/>
<circle cx="80.4" cy="313.7" r="0.55" fill="#111"/>
<circle cx="81.4" cy="315.5" r="0.55" fill="#111"/>
<circle cx="82.2" cy="327.6" r="0.55" fill="#111"/>
<circle cx="82.5" cy="310.9" r="0.55" fill="#111"/>
<circle cx="83.1" cy="322.9" r="0.55" fill="#111"/>
<circle cx="84.8" cy="288.2" r="0.55" fill="#111"/>
<circle cx="81.6" cy="342.4" r="0.55" fill="#111"/>
<circle cx="84.9" cy="333.6" r="0.55" fill="#111"/>
<circle cx="85.3" cy="306.8" r="0.55" fill="#111"/>
<circle cx="81.4" cy="309.2" r="0.55" fill="#111"/>
<circle cx="81.4" cy="306.3" r="0.55" fill="#111"/>
<circle cx="81.5" cy="344.3" r="0.55" fill="#111"/>
<circle cx="80.1" cy="314.1" r="0.55" fill="#111"/>
<circle cx="83.2" cy="334.1" r="0.55" fill="#111"/>
<circle cx="85.2" cy="307.0" r="0.55" fill="#111"/>
<circle cx="83.4" cy="325.9" r="0.55" fill="#111"/>
<circle cx="83.8" cy="340.0" r="0.55" fill="#111"/>
<circle cx="84.3" cy="274.8" r="0.55" fill="#111"/>
<circle cx="84.8" cy="301.9" r="0.55" fill="#111"/>
<circle cx="82.3" cy="310.6" r="0.55" fill="#111"/>
<circle cx="80.7" cy="336.5" r="0.55" fill="#111"/>
<circle cx="80.5" cy="321.7" r="0.55" fill="#111"/>
<circle cx="81.2" cy="322.3" r="0.55" fill="#111"/>
<circle cx="80.4" cy="306.8" r="0.55" fill="#111"/>
<circle cx="80.1" cy="300.6" r="0.55" fill="#111"/>
<circle cx="82.1" cy="311.2" r="0.55" fill="#111"/>
<circle cx="80.2" cy="308.9" r="0.55" fill="#111"/>
<circle cx="80.9" cy="296.6" r="0.55" fill="#111"/>
<circle cx="81.5" cy="337.1" r="0.55" fill="#111"/>
<circle cx="80.8" cy="328.1" r="0.55" fill="#111"/>
<circle cx="84.7" cy="300.6" r="0.55" fill="#111"/>
<circle cx="82.7" cy="293.5" r="0.55" fill="#111"/>
<circle cx="80.6" cy="317.8" r="0.55" fill="#111"/>
<circle cx="81.5" cy="301.5" r="0.55" fill="#111"/>
<circle cx="84.6" cy="305.4" r="0.55" fill="#111"/>
<circle cx="85.2" cy="314.4" r="0.55" fill="#111"/>
<circle cx="83.0" cy="312.9" r="0.55" fill="#111"/>
<circle cx="80.2" cy="301.0" r="0.55" fill="#111"/>
<circle cx="83.0" cy="296.1" r="0.55" fill="#111"/>
<circle cx="83.9" cy="275.7" r="0.55" fill="#111"/>
<circle cx="81.5" cy="322.3" r="0.55" fill="#111"/>
<circle cx="84.3" cy="325.1" r="0.55" fill="#111"/>
<circle cx="83.0" cy="307.4" r="0.55" fill="#111"/>
<circle cx="81.3" cy="313.4" r="0.55" fill="#111"/>
<circle cx="84.5" cy="335.0" r="0.55" fill="#111"/>
<circle cx="84.5" cy="276.3" r="0.55" fill="#111"/>
<circle cx="84.5" cy="320.6" r="0.55" fill="#111"/>
<circle cx="82.9" cy="317.7" r="0.55" fill="#111"/>
<circle cx="82.0" cy="331.6" r="0.55" fill="#111"/>
<circle cx="81.6" cy="311.9" r="0.55" fill="#111"/>
<circle cx="81.5" cy="315.9" r="0.55" fill="#111"/>
<circle cx="82.5" cy="335.1" r="0.55" fill="#111"/>
<circle cx="85.3" cy="259.8" r="0.55" fill="#111"/>
<circle cx="82.1" cy="340.5" r="0.55" fill="#111"/>
<circle cx="81.2" cy="314.0" r="0.55" fill="#111"/>
<circle cx="81.2" cy="302.1" r="0.55" fill="#111"/>
<circle cx="84.6" cy="348.4" r="0.55" fill="#111"/>
<circle cx="82.7" cy="348.1" r="0.55" fill="#111"/>
<circle cx="80.6" cy="338.1" r="0.55" fill="#111"/>
<circle cx="83.7" cy="347.3" r="0.55" fill="#111"/>
<circle cx="84.2" cy="286.2" r="0.55" fill="#111"/>
<circle cx="82.7" cy="336.2" r="0.55" fill="#111"/>
<circle cx="81.9" cy="300.9" r="0.55" fill="#111"/>
<circle cx="84.4" cy="283.8" r="0.55" fill="#111"/>
<circle cx="82.3" cy="296.2" r="0.55" fill="#111"/>
<circle cx="85.2" cy="320.4" r="0.55" fill="#111"/>
<circle cx="80.8" cy="318.7" r="0.55" fill="#111"/>
<circle cx="80.9" cy="329.3" r="0.55" fill="#111"/>
<circle cx="80.9" cy="285.7" r="0.55" fill="#111"/>
<circle cx="84.6" cy="337.9" r="0.55" fill="#111"/>
<circle cx="82.0" cy="286.6" r="0.55" fill="#111"/>
<circle cx="83.1" cy="320.5" r="0.55" fill="#111"/>
<circle cx="85.3" cy="314.4" r="0.55" fill="#111"/>
<circle cx="83.6" cy="314.2" r="0.55" fill="#111"/>
<circle cx="82.4" cy="324.8" r="0.55" fill="#111"/>
<circle cx="81.2" cy="289.9" r="0.55" fill="#111"/>
<circle cx="81.5" cy="344.8" r="0.55" fill="#111"/>
<circle cx="83.3" cy="320.9" r="0.55" fill="#111"/>
<circle cx="81.5" cy="301.9" r="0.55" fill="#111"/>
<circle cx="85.0" cy="326.4" r="0.55" fill="#111"/>
<circle cx="82.0" cy="311.4" r="0.55" fill="#111"/>
<circle cx="85.0" cy="343.3" r="0.55" fill="#111"/>
<circle cx="82.4" cy="309.6" r="0.55" fill="#111"/>
<circle cx="83.0" cy="295.5" r="0.55" fill="#111"/>
<circle cx="82.9" cy="328.9" r="0.55" fill="#111"/>
<circle cx="81.1" cy="294.6" r="0.55" fill="#111"/>
<circle cx="80.1" cy="314.1" r="0.55" fill="#111"/>
<circle cx="82.7" cy="312.9" r="0.55" fill="#111"/>
<circle cx="84.0" cy="328.9" r="0.55" fill="#111"/>
<circle cx="82.9" cy="334.0" r="0.55" fill="#111"/>
<circle cx="83.1" cy="323.2" r="0.55" fill="#111"/>
<circle cx="83.1" cy="314.6" r="0.55" fill="#111"/>
<circle cx="81.4" cy="326.4" r="0.55" fill="#111"/>
<circle cx="82.8" cy="322.8" r="0.55" fill="#111"/>
<circle cx="83.1" cy="281.6" r="0.55" fill="#111"/>
<circle cx="82.5" cy="313.9" r="0.55" fill="#111"/>
<circle cx="82.9" cy="335.5" r="0.55" fill="#111"/>
<circle cx="83.8" cy="332.7" r="0.55" fill="#111"/>
<circle cx="82.7" cy="341.2" r="0.55" fill="#111"/>
<circle cx="85.2" cy="309.2" r="0.55" fill="#111"/>
<circle cx="85.2" cy="330.1" r="0.55" fill="#111"/>
<circle cx="85.2" cy="318.4" r="0.55" fill="#111"/>
<circle cx="84.6" cy="290.2" r="0.55" fill="#111"/>
<circle cx="82.5" cy="309.9" r="0.55" fill="#111"/>
<circle cx="80.5" cy="308.7" r="0.55" fill="#111"/>
<circle cx="83.7" cy="316.3" r="0.55" fill="#111"/>
<circle cx="84.3" cy="308.7" r="0.55" fill="#111"/>
<circle cx="84.0" cy="307.2" r="0.55" fill="#111"/>
<circle cx="83.7" cy="324.0" r="0.55" fill="#111"/>
<circle cx="85.3" cy="290.0" r="0.55" fill="#111"/>
<circle cx="81.3" cy="283.1" r="0.55" fill="#111"/>
<circle cx="82.7" cy="296.8" r="0.55" fill="#111"/>
<circle cx="85.4" cy="322.9" r="0.55" fill="#111"/>
<circle cx="82.4" cy="310.7" r="0.55" fill="#111"/>
<circle cx="82.9" cy="327.4" r="0.55" fill="#111"/>
<circle cx="81.8" cy="324.0" r="0.55" fill="#111"/>
<circle cx="84.0" cy="305.1" r="0.55" fill="#111"/>
<circle cx="82.5" cy="290.6" r="0.55" fill="#111"/>
<circle cx="80.2" cy="313.5" r="0.55" fill="#111"/>
<circle cx="82.9" cy="331.0" r="0.55" fill="#111"/>
<circle cx="80.4" cy="291.5" r="0.55" fill="#111"/>
<circle cx="85.3" cy="280.3" r="0.55" fill="#111"/>
<circle cx="80.7" cy="320.2" r="0.55" fill="#111"/>
<circle cx="84.3" cy="317.3" r="0.55" fill="#111"/>
<circle cx="81.6" cy="310.9" r="0.55" fill="#111"/>
<circle cx="85.0" cy="301.8" r="0.55" fill="#111"/>
<circle cx="84.5" cy="300.9" r="0.55" fill="#111"/>
<circle cx="85.1" cy="317.4" r="0.55" fill="#111"/>
<circle cx="83.2" cy="305.0" r="0.55" fill="#111"/>
<circle cx="80.4" cy="319.5" r="0.55" fill="#111"/>
<circle cx="83.8" cy="325.3" r="0.55" fill="#111"/>
<circle cx="85.2" cy="323.9" r="0.55" fill="#111"/>
<circle cx="83.5" cy="313.1" r="0.55" fill="#111"/>
<circle cx="84.7" cy="314.0" r="0.55" fill="#111"/>
<circle cx="80.5" cy="325.0" r="0.55" fill="#111"/>
<circle cx="81.9" cy="301.9" r="0.55" fill="#111"/>
<circle cx="83.1" cy="334.1" r="0.55" fill="#111"/>
<circle cx="80.8" cy="302.1" r="0.55" fill="#111"/>
<circle cx="82.9" cy="324.0" r="0.55" fill="#111"/>
<circle cx="81.0" cy="316.0" r="0.55" fill="#111"/>
<circle cx="80.4" cy="306.8" r="0.55" fill="#111"/>
<circle cx="81.7" cy="311.4" r="0.55" fill="#111"/>
<circle cx="84.2" cy="299.6" r="0.55" fill="#111"/>
<circle cx="81.1" cy="322.8" r="0.55" fill="#111"/>
<circle cx="82.0" cy="293.1" r="0.55" fill="#111"/>
<circle cx="80.2" cy="301.1" r="0.55" fill="#111"/>
<circle cx="84.1" cy="315.0" r="0.55" fill="#111"/>
<circle cx="82.7" cy="329.5" r="0.55" fill="#111"/>
<circle cx="85.1" cy="321.0" r="0.55" fill="#111"/>
<circle cx="82.4" cy="286.6" r="0.55" fill="#111"/>
<circle cx="82.8" cy="293.0" r="0.55" fill="#111"/>
<circle cx="82.8" cy="306.2" r="0.55" fill="#111"/>
<circle cx="83.8" cy="334.6" r="0.55" fill="#111"/>
<circle cx="84.6" cy="297.9" r="0.55" fill="#111"/>
<circle cx="83.9" cy="318.8" r="0.55" fill="#111"/>
<circle cx="82.0" cy="330.6" r="0.55" fill="#111"/>
<circle cx="80.4" cy="332.7" r="0.55" fill="#111"/>
<circle cx="84.1" cy="311.3" r="0.55" fill="#111"/>
<circle cx="81.5" cy="311.0" r="0.55" fill="#111"/>
<circle cx="84.6" cy="312.2" r="0.55" fill="#111"/>
<circle cx="84.8" cy="309.3" r="0.55" fill="#111"/>
<circle cx="81.4" cy="324.8" r="0.55" fill="#111"/>
<circle cx="81.7" cy="331.6" r="0.55" fill="#111"/>
<circle cx="82.5" cy="328.5" r="0.55" fill="#111"/>
<circle cx="81.5" cy="313.7" r="0.55" fill="#111"/>
<circle cx="83.1" cy="262.7" r="0.55" fill="#111"/>
<circle cx="81.4" cy="330.0" r="0.55" fill="#111"/>
<circle cx="82.0" cy="299.3" r="0.55" fill="#111"/>
<circle cx="80.1" cy="320.6" r="0.55" fill="#111"/>
<circle cx="82.8" cy="334.1" r="0.55" fill="#111"/>
<circle cx="81.2" cy="300.8" r="0.55" fill="#111"/>
<circle cx="81.5" cy="318.8" r="0.55" fill="#111"/>
<circle cx="80.6" cy="316.8" r="0.55" fill="#111"/>
<circle cx="80.2" cy="321.6" r="0.55" fill="#111"/>
<circle cx="81.7" cy="313.2" r="0.55" fill="#111"/>
<circle cx="83.0" cy="313.8" r="0.55" fill="#111"/>
<circle cx="84.2" cy="289.4" r="0.55" fill="#111"/>
<circle cx="84.8" cy="334.8" r="0.55" fill="#111"/>
<circle cx="82.2" cy="344.3" r="0.55" fill="#111"/>
<circle cx="80.9" cy="344.4" r="0.55" fill="#111"/>
<circle cx="84.0" cy="263.5" r="0.55" fill="#111"/>
<circle cx="84.6" cy="320.6" r="0.55" fill="#111"/>
<circle cx="84.9" cy="321.6" r="0.55" fill="#111"/>
<circle cx="84.5" cy="340.3" r="0.55" fill="#111"/>
<circle cx="80.9" cy="341.0" r="0.55" fill="#111"/>
<circle cx="84.6" cy="341.1" r="0.55" fill="#111"/>
<circle cx="84.4" cy="320.4" r="0.55" fill="#111"/>
<circle cx="84.9" cy="304.1" r="0.55" fill="#111"/>
<circle cx="83.8" cy="341.1" r="0.55" fill="#111"/>
<circle cx="80.3" cy="322.0" r="0.55" fill="#111"/>
<circle cx="80.8" cy="330.8" r="0.55" fill="#111"/>
<circle cx="84.6" cy="323.0" r="0.55" fill="#111"/>
<circle cx="83.1" cy="309.3" r="0.55" fill="#111"/>
<circle cx="83.8" cy="337.0" r="0.55" fill="#111"/>
<circle cx="82.7" cy="337.7" r="0.55" fill="#111"/>
<circle cx="84.1" cy="279.7" r="0.55" fill="#111"/>
<circle cx="82.8" cy="316.0" r="0.55" fill="#111"/>
<circle cx="80.5" cy="346.5" r="0.55" fill="#111"/>
<circle cx="84.1" cy="323.4" r="0.55" fill="#111"/>
<circle cx="81.5" cy="316.9" r="0.55" fill="#111"/>
<circle cx="84.0" cy="308.6" r="0.55" fill="#111"/>
<circle cx="85.4" cy="307.3" r="0.55" fill="#111"/>
<circle cx="82.8" cy="284.0" r="0.55" fill="#111"/>
<circle cx="83.8" cy="334.3" r="0.55" fill="#111"/>
<circle cx="84.2" cy="300.8" r="0.55" fill="#111"/>
<circle cx="80.5" cy="338.8" r="0.55" fill="#111"/>
<circle cx="80.9" cy="336.7" r="0.55" fill="#111"/>
<circle cx="81.7" cy="317.6" r="0.55" fill="#111"/>
<circle cx="83.2" cy="282.5" r="0.55" fill="#111"/>
<circle cx="81.6" cy="309.4" r="0.55" fill="#111"/>
<circle cx="83.7" cy="316.2" r="0.55" fill="#111"/>
<circle cx="81.7" cy="327.8" r="0.55" fill="#111"/>
<circle cx="82.9" cy="345.9" r="0.55" fill="#111"/>
<circle cx="80.7" cy="339.4" r="0.55" fill="#111"/>
<circle cx="84.9" cy="311.6" r="0.55" fill="#111"/>
<circle cx="85.2" cy="298.8" r="0.55" fill="#111"/>
<circle cx="80.2" cy="262.3" r="0.55" fill="#111"/>
<circle cx="85.3" cy="353.9" r="0.55" fill="#111"/>
<circle cx="82.5" cy="307.0" r="0.55" fill="#111"/>
<circle cx="85.2" cy="318.4" r="0.55" fill="#111"/>
<circle cx="81.2" cy="302.6" r="0.55" fill="#111"/>
<circle cx="82.9" cy="326.8" r="0.55" fill="#111"/>
<circle cx="85.2" cy="322.4" r="0.55" fill="#111"/>
<circle cx="82.8" cy="290.9" r="0.55" fill="#111"/>
<circle cx="84.9" cy="288.3" r="0.55" fill="#111"/>
<circle cx="84.9" cy="321.1" r="0.55" fill="#111"/>
<circle cx="82.7" cy="331.2" r="0.55" fill="#111"/>
<circle cx="82.8" cy="315.0" r="0.55" fill="#111"/>
<circle cx="82.5" cy="316.5" r="0.55" fill="#111"/>
<circle cx="82.0" cy="320.4" r="0.55" fill="#111"/>
<circle cx="81.8" cy="305.9" r="0.55" fill="#111"/>
<circle cx="84.2" cy="316.1" r="0.55" fill="#111"/>
<circle cx="84.6" cy="317.8" r="0.55" fill="#111"/>
<circle cx="84.0" cy="282.2" r="0.55" fill="#111"/>
<circle cx="85.0" cy="284.3" r="0.55" fill="#111"/>
<circle cx="82.2" cy="321.7" r="0.55" fill="#111"/>
<circle cx="85.5" cy="297.4" r="0.55" fill="#111"/>
<circle cx="82.4" cy="333.4" r="0.55" fill="#111"/>
<circle cx="81.6" cy="327.2" r="0.55" fill="#111"/>
<circle cx="84.6" cy="307.6" r="0.55" fill="#111"/>
<circle cx="81.6" cy="313.9" r="0.55" fill="#111"/>
<circle cx="81.5" cy="302.3" r="0.55" fill="#111"/>
<circle cx="82.9" cy="322.9" r="0.55" fill="#111"/>
<circle cx="85.3" cy="309.3" r="0.55" fill="#111"/>
<circle cx="84.9" cy="298.1" r="0.55" fill="#111"/>
<circle cx="85.0" cy="305.6" r="0.55" fill="#111"/>
<circle cx="85.2" cy="343.9" r="0.55" fill="#111"/>
<circle cx="80.4" cy="348.3" r="0.55" fill="#111"/>
<circle cx="84.1" cy="326.8" r="0.55" fill="#111"/>
<circle cx="83.6" cy="349.8" r="0.55" fill="#111"/>
<circle cx="81.6" cy="306.2" r="0.55" fill="#111"/>
<circle cx="80.8" cy="271.5" r="0.55" fill="#111"/>
<circle cx="82.6" cy="302.4" r="0.55" fill="#111"/>
<circle cx="84.1" cy="326.4" r="0.55" fill="#111"/>
<circle cx="85.4" cy="302.2" r="0.55" fill="#111"/>
<circle cx="81.7" cy="318.7" r="0.55" fill="#111"/>
<circle cx="83.1" cy="286.5" r="0.55" fill="#111"/>
<circle cx="81.0" cy="326.6" r="0.55" fill="#111"/>
<circle cx="81.2" cy="309.0" r="0.55" fill="#111"/>
<circle cx="81.3" cy="296.5" r="0.55" fill="#111"/>
<circle cx="85.0" cy="330.3" r="0.55" fill="#111"/>
<circle cx="80.9" cy="294.1" r="0.55" fill="#111"/>
<circle cx="81.1" cy="317.3" r="0.55" fill="#111"/>
<circle cx="80.6" cy="300.8" r="0.55" fill="#111"/>
<circle cx="81.4" cy="306.5" r="0.55" fill="#111"/>
<circle cx="84.9" cy="318.2" r="0.55" fill="#111"/>
<circle cx="84.1" cy="289.8" r="0.55" fill="#111"/>
<circle cx="82.9" cy="335.1" r="0.55" fill="#111"/>
<circle cx="82.1" cy="305.6" r="0.55" fill="#111"/>
<circle cx="81.6" cy="320.7" r="0.55" fill="#111"/>
<circle cx="85.3" cy="310.4" r="0.55" fill="#111"/>
<circle cx="83.5" cy="299.5" r="0.55" fill="#111"/>
<circle cx="84.8" cy="299.3" r="0.55" fill="#111"/>
<circle cx="81.4" cy="313.2" r="0.55" fill="#111"/>
<circle cx="82.3" cy="300.6" r="0.55" fill="#111"/>
<circle cx="84.7" cy="299.6" r="0.55" fill="#111"/>
<circle cx="80.3" cy="313.7" r="0.55" fill="#111"/>
<circle cx="83.9" cy="319.9" r="0.55" fill="#111"/>
<circle cx="83.3" cy="298.1" r="0.55" fill="#111"/>
<circle cx="80.1" cy="331.1" r="0.55" fill="#111"/>
<circle cx="84.6" cy="353.6" r="0.55" fill="#111"/>
<circle cx="84.7" cy="286.9" r="0.55" fill="#111"/>
<circle cx="80.7" cy="301.3" r="0.55" fill="#111"/>
<circle cx="80.9" cy="319.5" r="0.55" fill="#111"/>
<circle cx="85.2" cy="347.9" r="0.55" fill="#111"/>
<circle cx="84.0" cy="321.1" r="0.55" fill="#111"/>
<circle cx="82.6" cy="338.0" r="0.55" fill="#111"/>
<circle cx="83.1" cy="345.0" r="0.55" fill="#111"/>
<circle cx="81.4" cy="281.6" r="0.55" fill="#111"/>
<circle cx="85.1" cy="307.8" r="0.55" fill="#111"/>
<circle cx="80.8" cy="327.5" r="0.55" fill="#111"/>
<circle cx="81.5" cy="330.7" r="0.55" fill="#111"/>
<circle cx="80.7" cy="337.8" r="0.55" fill="#111"/>
<circle cx="80.5" cy="341.0" r="0.55" fill="#111"/>
<circle cx="82.2" cy="343.9" r="0.55" fill="#111"/>
<circle cx="81.3" cy="320.9" r="0.55" fill="#111"/>
<circle cx="81.7" cy="319.2" r="0.55" fill="#111"/>
<circle cx="82.6" cy="318.5" r="0.55" fill="#111"/>
<circle cx="84.9" cy="287.9" r="0.55" fill="#111"/>
<circle cx="82.7" cy="324.4" r="0.55" fill="#111"/>
<circle cx="85.3" cy="315.3" r="0.55" fill="#111"/>
<circle cx="83.9" cy="301.2" r="0.55" fill="#111"/>
<circle cx="82.8" cy="318.3" r="0.55" fill="#111"/>
<circle cx="83.7" cy="312.7" r="0.55" fill="#111"/>
<circle cx="83.7" cy="330.8" r="0.55" fill="#111"/>
<circle cx="85.1" cy="309.0" r="0.55" fill="#111"/>
<circle cx="81.9" cy="316.0" r="0.55" fill="#111"/>
<circle cx="82.4" cy="311.3" r="0.55" fill="#111"/>
<circle cx="84.4" cy="322.4" r="0.55" fill="#111"/>
<circle cx="84.1" cy="329.3" r="0.55" fill="#111"/>
<circle cx="85.3" cy="330.8" r="0.55" fill="#111"/>
<circle cx="81.8" cy="317.2" r="0.55" fill="#111"/>
<circle cx="81.3" cy="310.3" r="0.55" fill="#111"/>
<circle cx="84.2" cy="330.4" r="0.55" fill="#111"/>
<circle cx="82.8" cy="331.0" r="0.55" fill="#111"/>
<circle cx="81.1" cy="267.7" r="0.55" fill="#111"/>
<circle cx="83.7" cy="313.2" r="0.55" fill="#111"/>
<circle cx="85.2" cy="295.5" r="0.55" fill="#111"/>
<circle cx="81.2" cy="304.2" r="0.55" fill="#111"/>
<circle cx="85.4" cy="300.2" r="0.55" fill="#111"/>
<circle cx="80.4" cy="312.5" r="0.55" fill="#111"/>
<circle cx="82.2" cy="311.5" r="0.55" fill="#111"/>
<circle cx="84.1" cy="282.2" r="0.55" fill="#111"/>
<circle cx="85.5" cy="342.4" r="0.55" fill="#111"/>
<circle cx="81.1" cy="299.9" r="0.55" fill="#111"/>
<circle cx="85.2" cy="324.5" r="0.55" fill="#111"/>
<circle cx="83.7" cy="316.9" r="0.55" fill="#111"/>
<circle cx="82.1" cy="322.0" r="0.55" fill="#111"/>
<circle cx="81.0" cy="329.8" r="0.55" fill="#111"/>
<circle cx="80.1" cy="303.5" r="0.55" fill="#111"/>
<circle cx="85.3" cy="320.3" r="0.55" fill="#111"/>
<circle cx="80.8" cy="297.8" r="0.55" fill="#111"/>
<circle cx="82.0" cy="303.0" r="0.55" fill="#111"/>
<circle cx="84.5" cy="319.9" r="0.55" fill="#111"/>
<circle cx="80.9" cy="245.7" r="0.55" fill="#111"/>
<circle cx="108.6" cy="352.6" r="0.55" fill="#111"/>
<circle cx="104.7" cy="351.7" r="0.55" fill="#111"/>
<circle cx="106.4" cy="342.5" r="0.55" fill="#111"/>
<circle cx="105.5" cy="354.0" r="0.55" fill="#111"/>
<circle cx="109.0" cy="360.9" r="0.55" fill="#111"/>
<circle cx="106.6" cy="344.7" r="0.55" fill="#111"/>
<circle cx="108.3" cy="360.7" r="0.55" fill="#111"/>
<circle cx="104.7" cy="360.3" r="0.55" fill="#111"/>
<circle cx="109.1" cy="356.2" r="0.55" fill="#111"/>
<circle cx="108.2" cy="342.9" r="0.55" fill="#111"/>
<circle cx="106.2" cy="355.9" r="0.55" fill="#111"/>
<circle cx="109.3" cy="348.8" r="0.55" fill="#111"/>
<circle cx="105.8" cy="346.7" r="0.55" fill="#111"/>
<circle cx="106.1" cy="355.9" r="0.55" fill="#111"/>
<circle cx="104.5" cy="345.9" r="0.55" fill="#111"/>
<circle cx="109.1" cy="348.4" r="0.55" fill="#111"/>
<circle cx="109.2" cy="361.1" r="0.55" fill="#111"/>
<circle cx="105.7" cy="351.7" r="0.55" fill="#111"/>
<circle cx="109.3" cy="341.8" r="0.55" fill="#111"/>
<circle cx="106.4" cy="356.4" r="0.55" fill="#111"/>
<circle cx="106.6" cy="351.3" r="0.55" fill="#111"/>
<circle cx="109.1" cy="357.8" r="0.55" fill="#111"/>
<circle cx="108.5" cy="346.2" r="0.55" fill="#111"/>
<circle cx="108.6" cy="345.5" r="0.55" fill="#111"/>
<circle cx="107.5" cy="354.8" r="0.55" fill="#111"/>
<circle cx="106.1" cy="354.1" r="0.55" fill="#111"/>
<circle cx="108.4" cy="359.9" r="0.55" fill="#111"/>
<circle cx="105.5" cy="345.9" r="0.55" fill="#111"/>
<circle cx="105.7" cy="360.2" r="0.55" fill="#111"/>
<circle cx="104.7" cy="350.1" r="0.55" fill="#111"/>
<circle cx="106.5" cy="330.9" r="0.55" fill="#111"/>
<circle cx="107.5" cy="327.5" r="0.55" fill="#111"/>
<circle cx="105.8" cy="335.8" r="0.55" fill="#111"/>
<circle cx="108.2" cy="339.2" r="0.55" fill="#111"/>
<circle cx="106.0" cy="324.2" r="0.55" fill="#111"/>
<text x="95" y="376.4" font-size="9.3" font-family="Liberation Serif" fill="#000" text-anchor="middle" font-weight="normal" >Cancer / Normal</text>
<text x="94.6" y="385.59999999999997" font-size="9.3" font-family="Liberation Serif" fill="#000" text-anchor="middle" font-weight="normal" >(n=369) /  (n=50)</text>
<rect x="55.3" y="395.4" width="79.2" height="131.39999999999998" stroke="#555" stroke-width="0.7" fill="none" />
<line x1="52.699999999999996" y1="504.20000000000005" x2="55.3" y2="504.20000000000005" stroke="#444" stroke-width="0.6" />
<text transform="translate(50.3,504.20000000000005) rotate(-90)" font-size="4.6" font-family="Liberation Sans" text-anchor="middle" fill="#444">1</text>
<line x1="52.699999999999996" y1="480.20000000000005" x2="55.3" y2="480.20000000000005" stroke="#444" stroke-width="0.6" />
<text transform="translate(50.3,480.20000000000005) rotate(-90)" font-size="4.6" font-family="Liberation Sans" text-anchor="middle" fill="#444">2</text>
<line x1="52.699999999999996" y1="456.20000000000005" x2="55.3" y2="456.20000000000005" stroke="#444" stroke-width="0.6" />
<text transform="translate(50.3,456.20000000000005) rotate(-90)" font-size="4.6" font-family="Liberation Sans" text-anchor="middle" fill="#444">3</text>
<line x1="52.699999999999996" y1="432.20000000000005" x2="55.3" y2="432.20000000000005" stroke="#444" stroke-width="0.6" />
<text transform="translate(50.3,432.20000000000005) rotate(-90)" font-size="4.6" font-family="Liberation Sans" text-anchor="middle" fill="#444">4</text>
<line x1="52.699999999999996" y1="408.20000000000005" x2="55.3" y2="408.20000000000005" stroke="#444" stroke-width="0.6" />
<text transform="translate(50.3,408.20000000000005) rotate(-90)" font-size="4.6" font-family="Liberation Sans" text-anchor="middle" fill="#444">5</text>
<text transform="translate(38.8,461.09999999999997) rotate(-90)" font-size="9.2" font-family="Liberation Serif" text-anchor="middle">Log<tspan font-size="6" dy="2">2</tspan><tspan dy="-2"> expression of NCAPG2</tspan></text>
<polyline points="82.5,404.1 82.5,400.9 107.3,400.9 107.3,488.9" fill="none" stroke="#aaa" stroke-width="0.7" />
<circle cx="94.6" cy="400.9" r="1.2" fill="#e02020"/>
<line x1="82.69999999999999" y1="427.8" x2="82.69999999999999" y2="466.2" stroke="#444" stroke-width="0.5" stroke-dasharray="1,1"/>
<line x1="82.69999999999999" y1="493.5" x2="82.69999999999999" y2="522.3" stroke="#444" stroke-width="0.5" stroke-dasharray="1,1"/>
<line x1="77.89999999999999" y1="427.8" x2="87.49999999999999" y2="427.8" stroke="#444" stroke-width="0.6" />
<line x1="77.89999999999999" y1="522.3" x2="87.49999999999999" y2="522.3" stroke="#444" stroke-width="0.6" />
<rect x="72.8" y="466.2" width="19.799999999999997" height="27.30000000000001" stroke="#b04040" stroke-width="0.6" fill="#f46464" />
<line x1="72.8" y1="480.5" x2="92.6" y2="480.5" stroke="#5a1818" stroke-width="1.2" />
<line x1="107.05000000000001" y1="489.9" x2="107.05000000000001" y2="500.3" stroke="#444" stroke-width="0.5" stroke-dasharray="1,1"/>
<line x1="107.05000000000001" y1="509.6" x2="107.05000000000001" y2="520" stroke="#444" stroke-width="0.5" stroke-dasharray="1,1"/>
<line x1="102.25000000000001" y1="489.9" x2="111.85000000000001" y2="489.9" stroke="#444" stroke-width="0.6" />
<line x1="102.25000000000001" y1="520" x2="111.85000000000001" y2="520" stroke="#444" stroke-width="0.6" />
<rect x="97.4" y="500.3" width="19.299999999999997" height="9.300000000000011" stroke="#444" stroke-width="0.6" fill="#7a7a7a" />
<line x1="97.4" y1="506" x2="116.7" y2="506" stroke="#111" stroke-width="1.2" />
<circle cx="84.7" cy="506.4" r="0.55" fill="#111"/>
<circle cx="85.2" cy="429.4" r="0.55" fill="#111"/>
<circle cx="80.4" cy="481.0" r="0.55" fill="#111"/>
<circle cx="82.6" cy="471.7" r="0.55" fill="#111"/>
<circle cx="81.2" cy="485.8" r="0.55" fill="#111"/>
<circle cx="82.2" cy="501.7" r="0.55" fill="#111"/>
<circle cx="83.9" cy="502.4" r="0.55" fill="#111"/>
<circle cx="84.5" cy="501.2" r="0.55" fill="#111"/>
<circle cx="84.4" cy="485.5" r="0.55" fill="#111"/>
<circle cx="81.5" cy="489.1" r="0.55" fill="#111"/>
<circle cx="83.9" cy="498.2" r="0.55" fill="#111"/>
<circle cx="81.0" cy="488.2" r="0.55" fill="#111"/>
<circle cx="80.7" cy="480.0" r="0.55" fill="#111"/>
<circle cx="84.7" cy="464.9" r="0.55" fill="#111"/>
<circle cx="82.0" cy="496.2" r="0.55" fill="#111"/>
<circle cx="85.3" cy="488.8" r="0.55" fill="#111"/>
<circle cx="84.3" cy="495.0" r="0.55" fill="#111"/>
<circle cx="83.4" cy="480.9" r="0.55" fill="#111"/>
<circle cx="82.5" cy="470.7" r="0.55" fill="#111"/>
<circle cx="84.3" cy="480.7" r="0.55" fill="#111"/>
<circle cx="80.1" cy="455.8" r="0.55" fill="#111"/>
<circle cx="81.5" cy="518.3" r="0.55" fill="#111"/>
<circle cx="85.2" cy="470.5" r="0.55" fill="#111"/>
<circle cx="83.0" cy="471.2" r="0.55" fill="#111"/>
<circle cx="84.6" cy="462.4" r="0.55" fill="#111"/>
<circle cx="82.3" cy="488.6" r="0.55" fill="#111"/>
<circle cx="85.0" cy="482.4" r="0.55" fill="#111"/>
<circle cx="80.5" cy="444.9" r="0.55" fill="#111"/>
<circle cx="81.1" cy="503.6" r="0.55" fill="#111"/>
<circle cx="81.9" cy="496.3" r="0.55" fill="#111"/>
<circle cx="81.3" cy="471.5" r="0.55" fill="#111"/>
<circle cx="83.1" cy="469.5" r="0.55" fill="#111"/>
<circle cx="80.0" cy="488.2" r="0.55" fill="#111"/>
<circle cx="81.7" cy="491.4" r="0.55" fill="#111"/>
<circle cx="81.6" cy="485.9" r="0.55" fill="#111"/>
<circle cx="81.0" cy="492.0" r="0.55" fill="#111"/>
<circle cx="80.2" cy="473.0" r="0.55" fill="#111"/>
<circle cx="80.4" cy="504.9" r="0.55" fill="#111"/>
<circle cx="83.4" cy="500.6" r="0.55" fill="#111"/>
<circle cx="80.4" cy="464.4" r="0.55" fill="#111"/>
<circle cx="82.1" cy="464.0" r="0.55" fill="#111"/>
<circle cx="81.4" cy="453.3" r="0.55" fill="#111"/>
<circle cx="81.6" cy="498.1" r="0.55" fill="#111"/>
<circle cx="83.0" cy="433.0" r="0.55" fill="#111"/>
<circle cx="84.6" cy="493.4" r="0.55" fill="#111"/>
<circle cx="85.3" cy="463.6" r="0.55" fill="#111"/>
<circle cx="83.8" cy="489.1" r="0.55" fill="#111"/>
<circle cx="81.0" cy="470.0" r="0.55" fill="#111"/>
<circle cx="82.2" cy="436.3" r="0.55" fill="#111"/>
<circle cx="84.3" cy="478.6" r="0.55" fill="#111"/>
<circle cx="82.4" cy="515.3" r="0.55" fill="#111"/>
<circle cx="80.8" cy="456.7" r="0.55" fill="#111"/>
<circle cx="83.4" cy="454.5" r="0.55" fill="#111"/>
<circle cx="84.8" cy="477.8" r="0.55" fill="#111"/>
<circle cx="81.9" cy="456.1" r="0.55" fill="#111"/>
<circle cx="82.6" cy="465.1" r="0.55" fill="#111"/>
<circle cx="82.7" cy="470.1" r="0.55" fill="#111"/>
<circle cx="84.9" cy="467.0" r="0.55" fill="#111"/>
<circle cx="84.2" cy="461.8" r="0.55" fill="#111"/>
<circle cx="85.1" cy="465.2" r="0.55" fill="#111"/>
<circle cx="85.0" cy="476.8" r="0.55" fill="#111"/>
<circle cx="85.2" cy="470.2" r="0.55" fill="#111"/>
<circle cx="84.9" cy="486.9" r="0.55" fill="#111"/>
<circle cx="82.0" cy="479.5" r="0.55" fill="#111"/>
<circle cx="84.4" cy="456.8" r="0.55" fill="#111"/>
<circle cx="80.8" cy="496.3" r="0.55" fill="#111"/>
<circle cx="82.1" cy="477.0" r="0.55" fill="#111"/>
<circle cx="84.5" cy="494.3" r="0.55" fill="#111"/>
<circle cx="81.1" cy="474.0" r="0.55" fill="#111"/>
<circle cx="82.1" cy="491.6" r="0.55" fill="#111"/>
<circle cx="80.6" cy="500.1" r="0.55" fill="#111"/>
<circle cx="81.2" cy="482.5" r="0.55" fill="#111"/>
<circle cx="80.1" cy="487.0" r="0.55" fill="#111"/>
<circle cx="82.9" cy="523.2" r="0.55" fill="#111"/>
<circle cx="84.4" cy="479.9" r="0.55" fill="#111"/>
<circle cx="80.5" cy="485.9" r="0.55" fill="#111"/>
<circle cx="83.3" cy="501.1" r="0.55" fill="#111"/>
<circle cx="81.6" cy="495.3" r="0.55" fill="#111"/>
<circle cx="82.2" cy="503.8" r="0.55" fill="#111"/>
<circle cx="83.5" cy="467.2" r="0.55" fill="#111"/>
<circle cx="80.0" cy="500.9" r="0.55" fill="#111"/>
<circle cx="83.2" cy="473.0" r="0.55" fill="#111"/>
<circle cx="84.0" cy="495.1" r="0.55" fill="#111"/>
<circle cx="84.1" cy="479.2" r="0.55" fill="#111"/>
<circle cx="82.5" cy="492.6" r="0.55" fill="#111"/>
<circle cx="80.5" cy="476.9" r="0.55" fill="#111"/>
<circle cx="80.4" cy="465.2" r="0.55" fill="#111"/>
<circle cx="82.3" cy="464.6" r="0.55" fill="#111"/>
<circle cx="83.3" cy="486.1" r="0.55" fill="#111"/>
<circle cx="80.3" cy="480.6" r="0.55" fill="#111"/>
<circle cx="82.7" cy="483.9" r="0.55" fill="#111"/>
<circle cx="80.2" cy="515.4" r="0.55" fill="#111"/>
<circle cx="85.0" cy="500.1" r="0.55" fill="#111"/>
<circle cx="80.6" cy="480.7" r="0.55" fill="#111"/>
<circle cx="83.9" cy="437.8" r="0.55" fill="#111"/>
<circle cx="85.2" cy="474.9" r="0.55" fill="#111"/>
<circle cx="82.6" cy="492.5" r="0.55" fill="#111"/>
<circle cx="80.8" cy="436.5" r="0.55" fill="#111"/>
<circle cx="84.2" cy="492.4" r="0.55" fill="#111"/>
<circle cx="81.8" cy="473.4" r="0.55" fill="#111"/>
<circle cx="84.0" cy="483.4" r="0.55" fill="#111"/>
<circle cx="81.4" cy="456.6" r="0.55" fill="#111"/>
<circle cx="84.3" cy="443.7" r="0.55" fill="#111"/>
<circle cx="84.9" cy="465.3" r="0.55" fill="#111"/>
<circle cx="81.0" cy="461.3" r="0.55" fill="#111"/>
<circle cx="81.6" cy="482.2" r="0.55" fill="#111"/>
<circle cx="80.1" cy="456.1" r="0.55" fill="#111"/>
<circle cx="85.0" cy="475.2" r="0.55" fill="#111"/>
<circle cx="83.6" cy="469.2" r="0.55" fill="#111"/>
<circle cx="84.1" cy="470.4" r="0.55" fill="#111"/>
<circle cx="80.5" cy="487.8" r="0.55" fill="#111"/>
<circle cx="81.8" cy="508.7" r="0.55" fill="#111"/>
<circle cx="84.6" cy="485.8" r="0.55" fill="#111"/>
<circle cx="84.7" cy="505.5" r="0.55" fill="#111"/>
<circle cx="80.5" cy="489.3" r="0.55" fill="#111"/>
<circle cx="82.0" cy="451.5" r="0.55" fill="#111"/>
<circle cx="84.2" cy="481.5" r="0.55" fill="#111"/>
<circle cx="83.0" cy="486.0" r="0.55" fill="#111"/>
<circle cx="82.3" cy="502.4" r="0.55" fill="#111"/>
<circle cx="80.9" cy="453.5" r="0.55" fill="#111"/>
<circle cx="84.3" cy="480.5" r="0.55" fill="#111"/>
<circle cx="81.3" cy="486.6" r="0.55" fill="#111"/>
<circle cx="83.1" cy="517.8" r="0.55" fill="#111"/>
<circle cx="79.9" cy="489.3" r="0.55" fill="#111"/>
<circle cx="80.1" cy="495.3" r="0.55" fill="#111"/>
<circle cx="82.2" cy="463.5" r="0.55" fill="#111"/>
<circle cx="82.7" cy="457.4" r="0.55" fill="#111"/>
<circle cx="81.1" cy="471.6" r="0.55" fill="#111"/>
<circle cx="83.4" cy="486.8" r="0.55" fill="#111"/>
<circle cx="81.8" cy="478.7" r="0.55" fill="#111"/>
<circle cx="80.5" cy="480.0" r="0.55" fill="#111"/>
<circle cx="83.1" cy="489.3" r="0.55" fill="#111"/>
<circle cx="83.1" cy="468.8" r="0.55" fill="#111"/>
<circle cx="82.5" cy="472.1" r="0.55" fill="#111"/>
<circle cx="80.6" cy="452.8" r="0.55" fill="#111"/>
<circle cx="80.7" cy="466.2" r="0.55" fill="#111"/>
<circle cx="80.4" cy="486.1" r="0.55" fill="#111"/>
<circle cx="84.1" cy="506.9" r="0.55" fill="#111"/>
<circle cx="82.1" cy="511.7" r="0.55" fill="#111"/>
<circle cx="83.4" cy="480.5" r="0.55" fill="#111"/>
<circle cx="82.9" cy="477.1" r="0.55" fill="#111"/>
<circle cx="82.3" cy="497.5" r="0.55" fill="#111"/>
<circle cx="85.0" cy="456.5" r="0.55" fill="#111"/>
<circle cx="84.8" cy="481.8" r="0.55" fill="#111"/>
<circle cx="80.1" cy="495.5" r="0.55" fill="#111"/>
<circle cx="81.2" cy="500.6" r="0.55" fill="#111"/>
<circle cx="80.2" cy="484.3" r="0.55" fill="#111"/>
<circle cx="82.9" cy="479.6" r="0.55" fill="#111"/>
<circle cx="85.0" cy="483.4" r="0.55" fill="#111"/>
<circle cx="83.2" cy="471.7" r="0.55" fill="#111"/>
<circle cx="82.6" cy="469.6" r="0.55" fill="#111"/>
<circle cx="80.8" cy="503.7" r="0.55" fill="#111"/>
<circle cx="81.6" cy="509.2" r="0.55" fill="#111"/>
<circle cx="84.7" cy="482.2" r="0.55" fill="#111"/>
<circle cx="84.1" cy="474.1" r="0.55" fill="#111"/>
<circle cx="84.5" cy="480.7" r="0.55" fill="#111"/>
<circle cx="83.9" cy="482.4" r="0.55" fill="#111"/>
<circle cx="82.3" cy="513.0" r="0.55" fill="#111"/>
<circle cx="81.1" cy="472.9" r="0.55" fill="#111"/>
<circle cx="80.1" cy="468.5" r="0.55" fill="#111"/>
<circle cx="81.7" cy="471.1" r="0.55" fill="#111"/>
<circle cx="84.5" cy="480.3" r="0.55" fill="#111"/>
<circle cx="83.7" cy="511.6" r="0.55" fill="#111"/>
<circle cx="82.3" cy="482.8" r="0.55" fill="#111"/>
<circle cx="84.2" cy="454.4" r="0.55" fill="#111"/>
<circle cx="83.4" cy="496.0" r="0.55" fill="#111"/>
<circle cx="85.1" cy="482.5" r="0.55" fill="#111"/>
<circle cx="80.0" cy="471.6" r="0.55" fill="#111"/>
<circle cx="81.3" cy="439.1" r="0.55" fill="#111"/>
<circle cx="85.0" cy="477.3" r="0.55" fill="#111"/>
<circle cx="83.9" cy="446.7" r="0.55" fill="#111"/>
<circle cx="81.7" cy="499.7" r="0.55" fill="#111"/>
<circle cx="81.2" cy="443.0" r="0.55" fill="#111"/>
<circle cx="83.6" cy="456.1" r="0.55" fill="#111"/>
<circle cx="83.5" cy="496.0" r="0.55" fill="#111"/>
<circle cx="84.4" cy="457.4" r="0.55" fill="#111"/>
<circle cx="83.7" cy="483.2" r="0.55" fill="#111"/>
<circle cx="83.8" cy="466.5" r="0.55" fill="#111"/>
<circle cx="83.0" cy="497.3" r="0.55" fill="#111"/>
<circle cx="83.3" cy="485.2" r="0.55" fill="#111"/>
<circle cx="80.3" cy="467.0" r="0.55" fill="#111"/>
<circle cx="80.0" cy="470.5" r="0.55" fill="#111"/>
<circle cx="80.5" cy="486.3" r="0.55" fill="#111"/>
<circle cx="80.7" cy="463.3" r="0.55" fill="#111"/>
<circle cx="80.1" cy="488.3" r="0.55" fill="#111"/>
<circle cx="83.3" cy="449.9" r="0.55" fill="#111"/>
<circle cx="83.7" cy="472.1" r="0.55" fill="#111"/>
<circle cx="83.1" cy="480.8" r="0.55" fill="#111"/>
<circle cx="81.9" cy="487.7" r="0.55" fill="#111"/>
<circle cx="84.7" cy="464.7" r="0.55" fill="#111"/>
<circle cx="80.3" cy="514.6" r="0.55" fill="#111"/>
<circle cx="85.0" cy="449.7" r="0.55" fill="#111"/>
<circle cx="80.5" cy="513.6" r="0.55" fill="#111"/>
<circle cx="80.1" cy="477.5" r="0.55" fill="#111"/>
<circle cx="84.5" cy="470.6" r="0.55" fill="#111"/>
<circle cx="84.4" cy="469.2" r="0.55" fill="#111"/>
<circle cx="83.3" cy="507.0" r="0.55" fill="#111"/>
<circle cx="80.4" cy="482.4" r="0.55" fill="#111"/>
<circle cx="84.0" cy="471.1" r="0.55" fill="#111"/>
<circle cx="82.2" cy="475.2" r="0.55" fill="#111"/>
<circle cx="80.0" cy="463.0" r="0.55" fill="#111"/>
<circle cx="83.8" cy="480.9" r="0.55" fill="#111"/>
<circle cx="81.9" cy="463.6" r="0.55" fill="#111"/>
<circle cx="82.6" cy="502.8" r="0.55" fill="#111"/>
<circle cx="84.5" cy="432.7" r="0.55" fill="#111"/>
<circle cx="82.1" cy="484.0" r="0.55" fill="#111"/>
<circle cx="82.3" cy="483.7" r="0.55" fill="#111"/>
<circle cx="83.7" cy="477.5" r="0.55" fill="#111"/>
<circle cx="82.8" cy="498.8" r="0.55" fill="#111"/>
<circle cx="80.4" cy="471.7" r="0.55" fill="#111"/>
<circle cx="84.3" cy="440.5" r="0.55" fill="#111"/>
<circle cx="81.0" cy="479.7" r="0.55" fill="#111"/>
<circle cx="84.0" cy="479.3" r="0.55" fill="#111"/>
<circle cx="82.6" cy="478.3" r="0.55" fill="#111"/>
<circle cx="82.6" cy="480.5" r="0.55" fill="#111"/>
<circle cx="82.6" cy="476.4" r="0.55" fill="#111"/>
<circle cx="81.8" cy="492.7" r="0.55" fill="#111"/>
<circle cx="85.0" cy="472.4" r="0.55" fill="#111"/>
<circle cx="81.4" cy="494.0" r="0.55" fill="#111"/>
<circle cx="82.6" cy="473.2" r="0.55" fill="#111"/>
<circle cx="80.5" cy="449.3" r="0.55" fill="#111"/>
<circle cx="84.2" cy="485.7" r="0.55" fill="#111"/>
<circle cx="83.7" cy="486.5" r="0.55" fill="#111"/>
<circle cx="81.8" cy="473.6" r="0.55" fill="#111"/>
<circle cx="82.1" cy="508.1" r="0.55" fill="#111"/>
<circle cx="80.4" cy="514.0" r="0.55" fill="#111"/>
<circle cx="84.7" cy="453.8" r="0.55" fill="#111"/>
<circle cx="81.3" cy="466.5" r="0.55" fill="#111"/>
<circle cx="84.8" cy="478.0" r="0.55" fill="#111"/>
<circle cx="84.7" cy="500.1" r="0.55" fill="#111"/>
<circle cx="81.2" cy="480.3" r="0.55" fill="#111"/>
<circle cx="84.0" cy="504.6" r="0.55" fill="#111"/>
<circle cx="84.0" cy="474.1" r="0.55" fill="#111"/>
<circle cx="81.7" cy="491.7" r="0.55" fill="#111"/>
<circle cx="80.7" cy="495.2" r="0.55" fill="#111"/>
<circle cx="83.9" cy="463.6" r="0.55" fill="#111"/>
<circle cx="80.8" cy="505.3" r="0.55" fill="#111"/>
<circle cx="83.0" cy="512.8" r="0.55" fill="#111"/>
<circle cx="80.6" cy="467.0" r="0.55" fill="#111"/>
<circle cx="81.2" cy="521.4" r="0.55" fill="#111"/>
<circle cx="80.9" cy="470.2" r="0.55" fill="#111"/>
<circle cx="84.5" cy="490.3" r="0.55" fill="#111"/>
<circle cx="80.7" cy="450.1" r="0.55" fill="#111"/>
<circle cx="81.7" cy="471.6" r="0.55" fill="#111"/>
<circle cx="82.7" cy="467.4" r="0.55" fill="#111"/>
<circle cx="80.9" cy="470.5" r="0.55" fill="#111"/>
<circle cx="85.2" cy="464.8" r="0.55" fill="#111"/>
<circle cx="85.1" cy="481.5" r="0.55" fill="#111"/>
<circle cx="80.4" cy="489.6" r="0.55" fill="#111"/>
<circle cx="84.2" cy="441.2" r="0.55" fill="#111"/>
<circle cx="81.0" cy="482.5" r="0.55" fill="#111"/>
<circle cx="83.3" cy="501.9" r="0.55" fill="#111"/>
<circle cx="82.0" cy="469.3" r="0.55" fill="#111"/>
<circle cx="80.1" cy="471.6" r="0.55" fill="#111"/>
<circle cx="83.6" cy="509.3" r="0.55" fill="#111"/>
<circle cx="82.6" cy="458.8" r="0.55" fill="#111"/>
<circle cx="80.7" cy="495.5" r="0.55" fill="#111"/>
<circle cx="83.2" cy="497.0" r="0.55" fill="#111"/>
<circle cx="84.8" cy="507.9" r="0.55" fill="#111"/>
<circle cx="82.2" cy="461.3" r="0.55" fill="#111"/>
<circle cx="82.2" cy="510.5" r="0.55" fill="#111"/>
<circle cx="81.1" cy="495.4" r="0.55" fill="#111"/>
<circle cx="84.1" cy="487.5" r="0.55" fill="#111"/>
<circle cx="83.7" cy="521.6" r="0.55" fill="#111"/>
<circle cx="83.4" cy="461.7" r="0.55" fill="#111"/>
<circle cx="82.4" cy="504.8" r="0.55" fill="#111"/>
<circle cx="80.4" cy="491.3" r="0.55" fill="#111"/>
<circle cx="82.2" cy="453.7" r="0.55" fill="#111"/>
<circle cx="83.3" cy="473.7" r="0.55" fill="#111"/>
<circle cx="81.3" cy="511.8" r="0.55" fill="#111"/>
<circle cx="83.3" cy="500.1" r="0.55" fill="#111"/>
<circle cx="82.1" cy="469.8" r="0.55" fill="#111"/>
<circle cx="80.9" cy="501.5" r="0.55" fill="#111"/>
<circle cx="83.4" cy="522.2" r="0.55" fill="#111"/>
<circle cx="82.5" cy="476.6" r="0.55" fill="#111"/>
<circle cx="85.2" cy="500.1" r="0.55" fill="#111"/>
<circle cx="80.8" cy="455.4" r="0.55" fill="#111"/>
<circle cx="84.1" cy="474.1" r="0.55" fill="#111"/>
<circle cx="80.4" cy="457.2" r="0.55" fill="#111"/>
<circle cx="83.0" cy="489.2" r="0.55" fill="#111"/>
<circle cx="82.7" cy="511.6" r="0.55" fill="#111"/>
<circle cx="83.4" cy="488.5" r="0.55" fill="#111"/>
<circle cx="82.1" cy="468.4" r="0.55" fill="#111"/>
<circle cx="85.0" cy="502.0" r="0.55" fill="#111"/>
<circle cx="82.0" cy="472.5" r="0.55" fill="#111"/>
<circle cx="84.0" cy="450.2" r="0.55" fill="#111"/>
<circle cx="81.8" cy="437.9" r="0.55" fill="#111"/>
<circle cx="80.2" cy="439.3" r="0.55" fill="#111"/>
<circle cx="80.0" cy="483.3" r="0.55" fill="#111"/>
<circle cx="82.2" cy="459.8" r="0.55" fill="#111"/>
<circle cx="81.8" cy="507.9" r="0.55" fill="#111"/>
<circle cx="81.3" cy="465.1" r="0.55" fill="#111"/>
<circle cx="85.0" cy="474.8" r="0.55" fill="#111"/>
<circle cx="82.7" cy="447.1" r="0.55" fill="#111"/>
<circle cx="82.0" cy="473.1" r="0.55" fill="#111"/>
<circle cx="81.0" cy="444.2" r="0.55" fill="#111"/>
<circle cx="84.3" cy="455.9" r="0.55" fill="#111"/>
<circle cx="83.3" cy="454.6" r="0.55" fill="#111"/>
<circle cx="81.1" cy="505.9" r="0.55" fill="#111"/>
<circle cx="85.1" cy="475.2" r="0.55" fill="#111"/>
<circle cx="84.3" cy="497.8" r="0.55" fill="#111"/>
<circle cx="84.3" cy="457.0" r="0.55" fill="#111"/>
<circle cx="82.9" cy="496.9" r="0.55" fill="#111"/>
<circle cx="80.6" cy="476.8" r="0.55" fill="#111"/>
<circle cx="84.5" cy="470.6" r="0.55" fill="#111"/>
<circle cx="81.3" cy="496.7" r="0.55" fill="#111"/>
<circle cx="82.2" cy="491.3" r="0.55" fill="#111"/>
<circle cx="80.9" cy="469.2" r="0.55" fill="#111"/>
<circle cx="81.4" cy="447.6" r="0.55" fill="#111"/>
<circle cx="81.2" cy="479.6" r="0.55" fill="#111"/>
<circle cx="82.2" cy="487.7" r="0.55" fill="#111"/>
<circle cx="83.3" cy="458.1" r="0.55" fill="#111"/>
<circle cx="84.9" cy="490.6" r="0.55" fill="#111"/>
<circle cx="84.5" cy="496.5" r="0.55" fill="#111"/>
<circle cx="84.8" cy="444.4" r="0.55" fill="#111"/>
<circle cx="84.1" cy="466.8" r="0.55" fill="#111"/>
<circle cx="83.3" cy="455.7" r="0.55" fill="#111"/>
<circle cx="80.0" cy="450.5" r="0.55" fill="#111"/>
<circle cx="83.4" cy="430.1" r="0.55" fill="#111"/>
<circle cx="81.3" cy="476.6" r="0.55" fill="#111"/>
<circle cx="81.2" cy="471.1" r="0.55" fill="#111"/>
<circle cx="84.1" cy="473.5" r="0.55" fill="#111"/>
<circle cx="84.8" cy="486.9" r="0.55" fill="#111"/>
<circle cx="84.2" cy="470.5" r="0.55" fill="#111"/>
<circle cx="83.2" cy="459.0" r="0.55" fill="#111"/>
<circle cx="84.1" cy="442.8" r="0.55" fill="#111"/>
<circle cx="84.2" cy="501.4" r="0.55" fill="#111"/>
<circle cx="84.4" cy="517.9" r="0.55" fill="#111"/>
<circle cx="82.8" cy="470.0" r="0.55" fill="#111"/>
<circle cx="83.9" cy="450.6" r="0.55" fill="#111"/>
<circle cx="82.9" cy="519.3" r="0.55" fill="#111"/>
<circle cx="81.3" cy="464.3" r="0.55" fill="#111"/>
<circle cx="82.6" cy="479.1" r="0.55" fill="#111"/>
<circle cx="80.2" cy="469.1" r="0.55" fill="#111"/>
<circle cx="82.6" cy="491.4" r="0.55" fill="#111"/>
<circle cx="82.6" cy="477.9" r="0.55" fill="#111"/>
<circle cx="79.9" cy="519.6" r="0.55" fill="#111"/>
<circle cx="84.4" cy="490.2" r="0.55" fill="#111"/>
<circle cx="83.5" cy="505.9" r="0.55" fill="#111"/>
<circle cx="84.4" cy="475.0" r="0.55" fill="#111"/>
<circle cx="85.1" cy="495.2" r="0.55" fill="#111"/>
<circle cx="80.3" cy="465.2" r="0.55" fill="#111"/>
<circle cx="80.1" cy="499.1" r="0.55" fill="#111"/>
<circle cx="83.2" cy="502.2" r="0.55" fill="#111"/>
<circle cx="81.7" cy="499.6" r="0.55" fill="#111"/>
<circle cx="85.2" cy="523.3" r="0.55" fill="#111"/>
<circle cx="84.7" cy="503.6" r="0.55" fill="#111"/>
<circle cx="80.1" cy="481.8" r="0.55" fill="#111"/>
<circle cx="81.7" cy="485.9" r="0.55" fill="#111"/>
<circle cx="84.6" cy="508.2" r="0.55" fill="#111"/>
<circle cx="82.7" cy="495.6" r="0.55" fill="#111"/>
<circle cx="84.1" cy="463.0" r="0.55" fill="#111"/>
<circle cx="82.2" cy="474.9" r="0.55" fill="#111"/>
<circle cx="82.9" cy="459.1" r="0.55" fill="#111"/>
<circle cx="84.4" cy="472.3" r="0.55" fill="#111"/>
<circle cx="82.1" cy="495.2" r="0.55" fill="#111"/>
<circle cx="82.6" cy="496.4" r="0.55" fill="#111"/>
<circle cx="85.2" cy="480.6" r="0.55" fill="#111"/>
<circle cx="81.7" cy="500.6" r="0.55" fill="#111"/>
<circle cx="81.6" cy="510.0" r="0.55" fill="#111"/>
<circle cx="83.3" cy="488.5" r="0.55" fill="#111"/>
<circle cx="84.1" cy="454.4" r="0.55" fill="#111"/>
<circle cx="84.7" cy="448.6" r="0.55" fill="#111"/>
<circle cx="82.8" cy="472.1" r="0.55" fill="#111"/>
<circle cx="79.9" cy="463.8" r="0.55" fill="#111"/>
<circle cx="80.9" cy="474.9" r="0.55" fill="#111"/>
<circle cx="83.5" cy="455.6" r="0.55" fill="#111"/>
<circle cx="84.2" cy="493.4" r="0.55" fill="#111"/>
<circle cx="83.2" cy="456.5" r="0.55" fill="#111"/>
<circle cx="83.3" cy="495.3" r="0.55" fill="#111"/>
<circle cx="83.6" cy="489.3" r="0.55" fill="#111"/>
<circle cx="81.0" cy="506.1" r="0.55" fill="#111"/>
<circle cx="84.0" cy="491.4" r="0.55" fill="#111"/>
<circle cx="80.4" cy="499.8" r="0.55" fill="#111"/>
<circle cx="84.1" cy="477.9" r="0.55" fill="#111"/>
<circle cx="84.8" cy="475.1" r="0.55" fill="#111"/>
<circle cx="82.0" cy="411.0" r="0.55" fill="#111"/>
<circle cx="81.5" cy="418.0" r="0.55" fill="#111"/>
<circle cx="83.0" cy="421.0" r="0.55" fill="#111"/>
<circle cx="82.6" cy="424.0" r="0.55" fill="#111"/>
<circle cx="107.8" cy="509.6" r="0.55" fill="#111"/>
<circle cx="108.6" cy="498.1" r="0.55" fill="#111"/>
<circle cx="107.3" cy="512.7" r="0.55" fill="#111"/>
<circle cx="106.0" cy="508.2" r="0.55" fill="#111"/>
<circle cx="106.1" cy="507.9" r="0.55" fill="#111"/>
<circle cx="107.7" cy="494.0" r="0.55" fill="#111"/>
<circle cx="104.8" cy="504.1" r="0.55" fill="#111"/>
<circle cx="104.7" cy="516.5" r="0.55" fill="#111"/>
<circle cx="108.6" cy="503.9" r="0.55" fill="#111"/>
<circle cx="109.1" cy="507.5" r="0.55" fill="#111"/>
<circle cx="104.6" cy="509.1" r="0.55" fill="#111"/>
<circle cx="107.5" cy="493.9" r="0.55" fill="#111"/>
<circle cx="109.4" cy="506.7" r="0.55" fill="#111"/>
<circle cx="106.6" cy="517.0" r="0.55" fill="#111"/>
<circle cx="107.7" cy="513.9" r="0.55" fill="#111"/>
<circle cx="105.3" cy="519.4" r="0.55" fill="#111"/>
<circle cx="104.5" cy="500.9" r="0.55" fill="#111"/>
<circle cx="105.1" cy="493.1" r="0.55" fill="#111"/>
<circle cx="104.9" cy="495.8" r="0.55" fill="#111"/>
<circle cx="105.1" cy="519.3" r="0.55" fill="#111"/>
<circle cx="108.1" cy="513.1" r="0.55" fill="#111"/>
<circle cx="108.2" cy="514.6" r="0.55" fill="#111"/>
<circle cx="104.8" cy="498.4" r="0.55" fill="#111"/>
<circle cx="108.1" cy="496.2" r="0.55" fill="#111"/>
<circle cx="108.1" cy="517.5" r="0.55" fill="#111"/>
<circle cx="107.6" cy="500.2" r="0.55" fill="#111"/>
<circle cx="106.8" cy="494.1" r="0.55" fill="#111"/>
<circle cx="105.8" cy="493.2" r="0.55" fill="#111"/>
<circle cx="108.1" cy="519.5" r="0.55" fill="#111"/>
<circle cx="104.6" cy="501.8" r="0.55" fill="#111"/>
<circle cx="108.6" cy="517.6" r="0.55" fill="#111"/>
<circle cx="106.1" cy="499.7" r="0.55" fill="#111"/>
<circle cx="105.3" cy="496.0" r="0.55" fill="#111"/>
<circle cx="106.9" cy="518.2" r="0.55" fill="#111"/>
<circle cx="106.3" cy="503.9" r="0.55" fill="#111"/>
<circle cx="106.7" cy="501.1" r="0.55" fill="#111"/>
<circle cx="105.2" cy="497.8" r="0.55" fill="#111"/>
<circle cx="106.3" cy="502.0" r="0.55" fill="#111"/>
<circle cx="107.6" cy="508.3" r="0.55" fill="#111"/>
<circle cx="106.4" cy="498.1" r="0.55" fill="#111"/>
<circle cx="109.2" cy="498.1" r="0.55" fill="#111"/>
<circle cx="107.3" cy="511.7" r="0.55" fill="#111"/>
<circle cx="104.8" cy="492.9" r="0.55" fill="#111"/>
<circle cx="108.0" cy="497.0" r="0.55" fill="#111"/>
<circle cx="106.2" cy="503.1" r="0.55" fill="#111"/>
<text x="95" y="536.5" font-size="9.3" font-family="Liberation Serif" fill="#000" text-anchor="middle" font-weight="normal" >Cancer / Normal</text>
<text x="94.6" y="545.7" font-size="9.3" font-family="Liberation Serif" fill="#000" text-anchor="middle" font-weight="normal" >(n=369) /  (n=50)</text>
<rect x="264.8" y="244.4" width="133.09999999999997" height="126.20000000000002" stroke="#555" stroke-width="0.75" fill="none" />
<line x1="261.8" y1="365.9" x2="264.8" y2="365.9" stroke="#555" stroke-width="0.7" />
<text transform="translate(257.40000000000003,365.9) rotate(-90)" font-size="6.2" font-family="Liberation Sans" text-anchor="middle" fill="#222">0.0</text>
<line x1="261.8" y1="342.59999999999997" x2="264.8" y2="342.59999999999997" stroke="#555" stroke-width="0.7" />
<text transform="translate(257.40000000000003,342.59999999999997) rotate(-90)" font-size="6.2" font-family="Liberation Sans" text-anchor="middle" fill="#222">0.2</text>
<line x1="261.8" y1="319.3" x2="264.8" y2="319.3" stroke="#555" stroke-width="0.7" />
<text transform="translate(257.40000000000003,319.3) rotate(-90)" font-size="6.2" font-family="Liberation Sans" text-anchor="middle" fill="#222">0.4</text>
<line x1="261.8" y1="296.0" x2="264.8" y2="296.0" stroke="#555" stroke-width="0.7" />
<text transform="translate(257.40000000000003,296.0) rotate(-90)" font-size="6.2" font-family="Liberation Sans" text-anchor="middle" fill="#222">0.6</text>
<line x1="261.8" y1="272.7" x2="264.8" y2="272.7" stroke="#555" stroke-width="0.7" />
<text transform="translate(257.40000000000003,272.7) rotate(-90)" font-size="6.2" font-family="Liberation Sans" text-anchor="middle" fill="#222">0.8</text>
<line x1="261.8" y1="249.4" x2="264.8" y2="249.4" stroke="#555" stroke-width="0.7" />
<text transform="translate(257.40000000000003,249.4) rotate(-90)" font-size="6.2" font-family="Liberation Sans" text-anchor="middle" fill="#222">1.0</text>
<line x1="265.0" y1="370.6" x2="265.0" y2="373.20000000000005" stroke="#555" stroke-width="0.7" />
<text x="265.0" y="382.20000000000005" font-size="6.2" font-family="Liberation Sans" fill="#222" text-anchor="middle" font-weight="normal" >0</text>
<line x1="285.8833333333333" y1="370.6" x2="285.8833333333333" y2="373.20000000000005" stroke="#555" stroke-width="0.7" />
<text x="285.8833333333333" y="382.20000000000005" font-size="6.2" font-family="Liberation Sans" fill="#222" text-anchor="middle" font-weight="normal" >20</text>
<line x1="306.76666666666665" y1="370.6" x2="306.76666666666665" y2="373.20000000000005" stroke="#555" stroke-width="0.7" />
<text x="306.76666666666665" y="382.20000000000005" font-size="6.2" font-family="Liberation Sans" fill="#222" text-anchor="middle" font-weight="normal" >40</text>
<line x1="327.65" y1="370.6" x2="327.65" y2="373.20000000000005" stroke="#555" stroke-width="0.7" />
<text x="327.65" y="382.20000000000005" font-size="6.2" font-family="Liberation Sans" fill="#222" text-anchor="middle" font-weight="normal" >60</text>
<line x1="348.5333333333333" y1="370.6" x2="348.5333333333333" y2="373.20000000000005" stroke="#555" stroke-width="0.7" />
<text x="348.5333333333333" y="382.20000000000005" font-size="6.2" font-family="Liberation Sans" fill="#222" text-anchor="middle" font-weight="normal" >80</text>
<line x1="369.4166666666667" y1="370.6" x2="369.4166666666667" y2="373.20000000000005" stroke="#555" stroke-width="0.7" />
<text x="369.4166666666667" y="382.20000000000005" font-size="6.2" font-family="Liberation Sans" fill="#222" text-anchor="middle" font-weight="normal" >100</text>
<line x1="390.3" y1="370.6" x2="390.3" y2="373.20000000000005" stroke="#555" stroke-width="0.7" />
<text x="390.3" y="382.20000000000005" font-size="6.2" font-family="Liberation Sans" fill="#222" text-anchor="middle" font-weight="normal" >120</text>
<text x="331.35" y="390.20000000000005" font-size="8.3" font-family="Liberation Sans" fill="#000" text-anchor="middle" font-weight="normal" >Months</text>
<text transform="translate(246.3,307.65) rotate(-90)" font-size="8" font-family="Liberation Sans" text-anchor="middle">Percent survival</text>
<text x="330.6" y="241.6" font-size="7.4" font-family="Liberation Serif" fill="#000" text-anchor="middle" font-weight="normal" >Overall survival of E2F1</text>
<polyline points="265.0,249.4 266.4,249.4 267.0,249.4 267.0,249.7 269.0,249.7 269.0,250.7 271.0,250.7 271.0,251.7 272.9,251.7 272.9,252.7 273.0,252.7 273.0,252.8 275.0,252.8 275.0,253.8 277.0,253.8 277.0,254.8 279.0,254.8 279.0,255.8 281.0,255.8 281.0,256.8 283.0,256.8 283.0,257.8 283.8,257.8 283.8,258.2 285.0,258.2 285.0,259.2 287.0,259.2 287.0,260.8 289.0,260.8 289.0,262.4 291.0,262.4 291.0,263.9 293.0,263.9 293.0,265.5 294.7,265.5 294.7,266.9 295.0,266.9 295.0,267.1 297.0,267.1 297.0,268.2 299.0,268.2 299.0,269.3 301.0,269.3 301.0,270.5 303.0,270.5 303.0,271.6 304.6,271.6 304.6,272.5 305.0,272.5 305.0,272.7 307.0,272.7 307.0,273.9 309.0,273.9 309.0,275.1 311.0,275.1 311.0,276.3 313.0,276.3 313.0,277.5 315.0,277.5 315.0,278.7 317.0,278.7 317.0,279.9 319.0,279.9 319.0,281.1 319.1,281.1 319.1,281.2 321.0,281.2 321.0,282.5 323.0,282.5 323.0,283.8 325.0,283.8 325.0,285.1 327.0,285.1 327.0,286.4 327.9,286.4 327.9,287.0 329.0,287.0 329.0,287.4 331.0,287.4 331.0,288.2 333.0,288.2 333.0,288.9 335.0,288.9 335.0,289.7 337.0,289.7 337.0,290.5 339.0,290.5 339.0,291.2 339.5,291.2 339.5,291.4 341.0,291.4 341.0,291.6 343.0,291.6 343.0,291.9 345.0,291.9 345.0,292.2 347.0,292.2 347.0,292.5 349.0,292.5 349.0,292.8 349.8,292.8 349.8,292.9 351.0,292.9 351.0,294.1 353.0,294.1 353.0,296.2 353.1,296.2 353.1,296.3 355.0,296.3 357.0,296.3 359.0,296.3 361.0,296.3 363.0,296.3 365.0,296.3 367.0,296.3 369.0,296.3 371.0,296.3 373.0,296.3 374.3,296.3 375.0,296.3 375.0,297.8 375.1,297.8 375.1,298.0 377.0,298.0 379.0,298.0 381.0,298.0 383.0,298.0 385.0,298.0 387.0,298.0 389.0,298.0 391.0,298.0 393.0,298.0 394.0,298.0" fill="none" stroke="#b4b4cc" stroke-width="0.85" stroke-dasharray="1,0.9"/>
<polyline points="265.0,249.4 267.0,249.4 267.0,252.2 267.4,252.2 267.4,252.7 269.0,252.7 269.0,254.7 271.0,254.7 271.0,257.3 273.0,257.3 273.0,259.8 275.0,259.8 275.0,262.4 275.1,262.4 275.1,262.5 277.0,262.5 277.0,264.6 279.0,264.6 279.0,266.9 281.0,266.9 281.0,269.1 283.0,269.1 283.0,271.4 283.8,271.4 283.8,272.3 285.0,272.3 285.0,273.5 287.0,273.5 287.0,275.5 289.0,275.5 289.0,277.5 291.0,277.5 291.0,279.5 292.5,279.5 292.5,281.0 293.0,281.0 293.0,281.4 295.0,281.4 295.0,283.0 297.0,283.0 297.0,284.6 299.0,284.6 299.0,286.3 301.0,286.3 301.0,287.9 302.0,287.9 302.0,288.7 303.0,288.7 303.0,289.5 305.0,289.5 305.0,291.0 307.0,291.0 307.0,292.5 309.0,292.5 309.0,294.0 311.0,294.0 311.0,295.5 313.0,295.5 313.0,297.0 315.0,297.0 315.0,298.5 317.0,298.5 317.0,300.0 319.0,300.0 319.0,301.5 319.1,301.5 319.1,301.6 321.0,301.6 321.0,301.9 323.0,301.9 323.0,302.1 325.0,302.1 325.0,302.4 327.0,302.4 327.0,302.7 329.0,302.7 329.0,303.0 329.3,303.0 331.0,303.0 333.0,303.0 335.0,303.0 337.0,303.0 339.0,303.0 339.0,302.9 339.7,302.9 341.0,302.9 343.0,302.9 345.0,302.9 347.0,302.9 349.0,302.9 349.8,302.9 351.0,302.9 351.0,303.8 353.0,303.8 353.0,305.2 353.1,305.2 353.1,305.3 355.0,305.3 357.0,305.3 359.0,305.3 361.0,305.3 363.0,305.3 365.0,305.3 367.0,305.3 369.0,305.3 371.0,305.3 373.0,305.3 374.3,305.3" fill="none" stroke="#d4aab2" stroke-width="0.85" stroke-dasharray="1,0.9"/>
<polyline points="265.0,249.4 267.0,249.4 267.0,253.2 268.5,253.2 268.5,256.0 269.0,256.0 269.0,256.6 271.0,256.6 271.0,259.1 273.0,259.1 273.0,261.5 275.0,261.5 275.0,264.0 277.0,264.0 277.0,266.4 278.3,266.4 278.3,268.0 279.0,268.0 279.0,268.6 281.0,268.6 281.0,270.2 283.0,270.2 283.0,271.8 285.0,271.8 285.0,273.3 287.0,273.3 287.0,274.9 289.0,274.9 289.0,276.5 289.2,276.5 289.2,276.7 291.0,276.7 291.0,278.2 293.0,278.2 293.0,279.9 295.0,279.9 295.0,281.6 297.0,281.6 297.0,283.3 299.0,283.3 299.0,285.0 301.0,285.0 301.0,286.7 302.0,286.7 302.0,287.6 303.0,287.6 303.0,288.4 305.0,288.4 305.0,289.9 307.0,289.9 307.0,291.5 309.0,291.5 309.0,293.0 311.0,293.0 311.0,294.6 313.0,294.6 313.0,296.1 315.0,296.1 315.0,297.7 317.0,297.7 317.0,299.2 318.0,299.2 318.0,300.0 319.0,300.0 319.0,301.5 321.0,301.5 321.0,304.5 323.0,304.5 323.0,307.4 325.0,307.4 325.0,310.4 326.4,310.4 326.4,312.5 327.0,312.5 329.0,312.5 329.0,312.6 331.0,312.6 331.0,312.7 333.0,312.7 333.0,312.9 335.0,312.9 335.0,313.0 337.0,313.0 337.0,313.1 339.0,313.1 339.0,313.2 339.5,313.2 341.0,313.2 341.0,313.9 343.0,313.9 343.0,314.8 345.0,314.8 345.0,315.7 347.0,315.7 347.0,316.6 349.0,316.6 349.0,317.5 350.0,317.5 350.0,318.0 351.0,318.0 351.0,321.5 353.0,321.5 353.0,328.6 353.4,328.6 353.4,330.0 355.0,330.0 355.0,330.2 357.0,330.2 357.0,330.5 359.0,330.5 359.0,330.8 361.0,330.8 361.0,331.1 363.0,331.1 363.0,331.4 365.0,331.4 365.0,331.7 367.0,331.7 367.0,332.0 369.0,332.0 369.0,332.3 371.0,332.3 371.0,332.6 373.0,332.6 373.0,332.9 374.0,332.9 374.0,333.0 375.0,333.0 375.0,334.0 377.0,334.0 377.0,335.9 378.4,335.9 378.4,337.2 379.0,337.2 379.0,348.7 381.0,348.7 383.0,348.7 385.0,348.7 385.8,348.7" fill="none" stroke="#b4b4cc" stroke-width="0.85" stroke-dasharray="1,0.9"/>
<polyline points="265.0,249.4 267.0,249.4 267.0,256.9 268.5,256.9 268.5,262.5 269.0,262.5 269.0,263.2 271.0,263.2 271.0,266.3 272.9,266.3 272.9,269.1 273.0,269.1 273.0,269.2 275.0,269.2 275.0,272.1 277.0,272.1 277.0,275.0 279.0,275.0 279.0,277.8 280.5,277.8 280.5,280.0 281.0,280.0 281.0,280.6 283.0,280.6 283.0,283.2 285.0,283.2 285.0,285.7 287.0,285.7 287.0,288.3 288.2,288.3 288.2,289.8 289.0,289.8 289.0,290.6 291.0,290.6 291.0,292.6 293.0,292.6 293.0,294.6 294.7,294.6 294.7,296.3 295.0,296.3 295.0,296.6 297.0,296.6 297.0,298.4 299.0,298.4 299.0,300.2 301.0,300.2 301.0,302.0 302.0,302.0 302.0,302.9 303.0,302.9 303.0,305.2 304.6,305.2 304.6,308.9 305.0,308.9 305.0,309.3 307.0,309.3 307.0,311.3 309.0,311.3 309.0,313.3 311.0,313.3 311.0,315.3 313.0,315.3 313.0,317.3 313.3,317.3 313.3,317.6 315.0,317.6 315.0,319.0 317.0,319.0 317.0,320.7 319.0,320.7 319.0,322.4 321.0,322.4 321.0,324.1 322.0,324.1 322.0,324.9 323.0,324.9 323.0,325.7 325.0,325.7 325.0,327.3 327.0,327.3 327.0,328.9 329.0,328.9 329.0,330.5 329.3,330.5 329.3,330.7 331.0,330.7 333.0,330.7 335.0,330.7 337.0,330.7 339.0,330.7 341.0,330.7 343.0,330.7 345.0,330.7 347.0,330.7 349.0,330.7 351.0,330.7 351.4,330.7 353.0,330.7 353.0,352.7 355.0,352.7 357.0,352.7 359.0,352.7 361.0,352.7 363.0,352.7 365.0,352.7 367.0,352.7 369.0,352.7 371.0,352.7 373.0,352.7 374.3,352.7 375.0,352.7 375.0,363.4 377.0,363.4 379.0,363.4 381.0,363.4 383.0,363.4 385.0,363.4 387.0,363.4 389.0,363.4 391.0,363.4 393.0,363.4 394.0,363.4" fill="none" stroke="#d4aab2" stroke-width="0.85" stroke-dasharray="1,0.9"/>
<polyline points="265.0,249.4 266.5,249.4 266.5,251.7 266.8,251.7 266.8,252.2 268.0,252.2 268.0,254.9 269.2,254.9 269.2,257.6 269.5,257.6 269.5,258.4 271.0,258.4 271.0,262.3 272.5,262.3 272.5,263.8 274.0,263.8 274.0,265.3 275.5,265.3 275.5,268.8 275.8,268.8 275.8,269.5 277.0,269.5 277.0,273.5 277.6,273.5 277.6,275.5 278.5,275.5 278.5,278.0 279.3,278.0 279.3,280.3 280.0,280.3 280.0,281.2 281.5,281.2 281.5,283.1 281.7,283.1 281.7,283.3 283.0,283.3 283.0,283.6 284.5,283.6 284.5,284.0 286.0,284.0 286.0,284.4 286.5,284.4 286.5,284.5 287.5,284.5 287.5,286.0 288.9,286.0 288.9,288.1 289.0,288.1 289.0,288.3 290.5,288.3 290.5,291.6 290.7,291.6 290.7,292.0 292.0,292.0 292.0,293.5 293.5,293.5 293.5,295.2 295.0,295.2 295.0,296.9 295.4,296.9 295.4,297.4 296.5,297.4 296.5,298.0 298.0,298.0 298.0,298.7 299.5,298.7 299.5,299.5 301.0,299.5 301.0,300.2 301.1,300.2 301.1,300.3 302.5,300.3 302.5,301.7 304.0,301.7 304.0,303.1 305.0,303.1 305.0,304.1 305.5,304.1 305.5,304.2 307.0,304.2 307.0,304.3 308.5,304.3 308.5,304.4 310.0,304.4 310.0,304.6 311.0,304.6 311.0,304.7 311.5,304.7 311.5,305.2 313.0,305.2 313.0,306.7 314.0,306.7 314.0,307.7 314.5,307.7 314.5,308.0 316.0,308.0 316.0,308.9 317.0,308.9 317.0,309.5 317.5,309.5 317.5,309.7 319.0,309.7 319.0,310.2 320.5,310.2 320.5,310.7 320.6,310.7 322.0,310.7 322.0,312.2 322.9,312.2 322.9,313.1 323.5,313.1 323.5,313.7 325.0,313.7 325.0,315.2 325.3,315.2 325.3,315.5 326.5,315.5 326.5,315.7 328.0,315.7 328.0,316.0 328.3,316.0 328.3,316.1 329.5,316.1 329.5,318.2 330.1,318.2 330.1,319.2 331.0,319.2 332.5,319.2 334.0,319.2 335.5,319.2 337.0,319.2 338.5,319.2 340.0,319.2 341.5,319.2 343.0,319.2 344.5,319.2 346.0,319.2 347.5,319.2 349.0,319.2 350.5,319.2 350.6,319.2 351.1,319.2 351.1,328.2 352.0,328.2 352.8,328.2 353.1,328.2 353.1,338.0 353.5,338.0 355.0,338.0 356.5,338.0 358.0,338.0 359.5,338.0 361.0,338.0 362.5,338.0 364.0,338.0 365.5,338.0 367.0,338.0 368.5,338.0 370.0,338.0 371.5,338.0 373.0,338.0 374.0,338.0 374.3,338.0 374.3,351.9 374.5,351.9 376.0,351.9 377.5,351.9 379.0,351.9 380.5,351.9 382.0,351.9 383.5,351.9 385.0,351.9 386.5,351.9 388.0,351.9 389.5,351.9 391.0,351.9 392.5,351.9 394.0,351.9" fill="none" stroke="#e83030" stroke-width="1.25" stroke-linejoin="miter"/>
<polyline points="265.0,249.4 266.5,249.4 266.5,251.9 267.4,251.9 267.4,253.4 268.0,253.4 268.0,253.9 269.5,253.9 269.5,255.2 271.0,255.2 271.0,256.5 271.6,256.5 271.6,257.0 272.5,257.0 272.5,257.6 274.0,257.6 274.0,258.5 275.2,258.5 275.2,259.3 275.5,259.3 275.5,259.5 277.0,259.5 277.0,260.4 278.5,260.4 278.5,261.4 279.9,261.4 279.9,262.3 280.0,262.3 281.5,262.3 281.5,263.0 283.0,263.0 283.0,263.6 283.5,263.6 283.5,263.8 284.5,263.8 284.5,266.0 285.3,266.0 285.3,267.7 286.0,267.7 286.0,268.9 287.1,268.9 287.1,270.7 287.5,270.7 287.5,271.0 289.0,271.0 289.0,272.3 290.5,272.3 290.5,273.5 290.7,273.5 290.7,273.7 292.0,273.7 292.0,274.4 293.5,274.4 293.5,275.1 294.3,275.1 294.3,275.5 295.0,275.5 295.0,276.4 296.5,276.4 296.5,278.2 296.7,278.2 296.7,278.5 298.0,278.5 298.0,279.0 299.5,279.0 299.5,279.6 301.0,279.6 301.0,280.1 301.5,280.1 301.5,280.3 302.5,280.3 302.5,281.0 304.0,281.0 304.0,282.0 305.1,282.0 305.1,282.7 305.5,282.7 305.5,283.2 307.0,283.2 307.0,284.9 308.5,284.9 308.5,286.6 308.6,286.6 308.6,286.7 310.0,286.7 310.0,287.6 311.5,287.6 311.5,288.6 312.2,288.6 312.2,289.1 313.0,289.1 313.0,289.8 314.5,289.8 314.5,291.0 315.8,291.0 315.8,292.1 316.0,292.1 316.0,292.2 317.5,292.2 317.5,292.7 319.0,292.7 319.0,293.3 320.5,293.3 320.5,293.9 320.6,293.9 322.0,293.9 322.0,294.6 323.5,294.6 323.5,295.4 324.1,295.4 324.1,295.7 325.0,295.7 325.0,297.5 325.9,297.5 325.9,299.3 326.5,299.3 326.5,299.8 328.0,299.8 328.0,301.1 328.3,301.1 328.3,301.3 329.5,301.3 331.0,301.3 332.5,301.3 334.0,301.3 335.5,301.3 337.0,301.3 337.9,301.3 338.5,301.3 338.5,303.1 340.0,303.1 340.0,307.7 340.3,307.7 340.3,308.6 341.5,308.6 343.0,308.6 344.5,308.6 346.0,308.6 347.5,308.6 349.0,308.6 349.8,308.6 350.5,308.6 350.5,313.6 350.6,313.6 350.6,314.3 352.0,314.3 353.1,314.3 353.4,314.3 353.4,321.7 353.5,321.7 355.0,321.7 356.5,321.7 358.0,321.7 359.5,321.7 361.0,321.7 362.5,321.7 364.0,321.7 365.5,321.7 367.0,321.7 368.5,321.7 370.0,321.7 371.5,321.7 373.0,321.7 374.5,321.7 376.0,321.7 377.5,321.7 378.4,321.7 378.9,321.7 378.9,332.6 379.0,332.6 380.5,332.6 382.0,332.6 383.5,332.6 385.0,332.6 386.5,332.6 386.6,332.6" fill="none" stroke="#2a2ad2" stroke-width="1.25" stroke-linejoin="miter"/>
<line x1="283" y1="282.025" x2="283" y2="285.225" stroke="#e83030" stroke-width="0.8" />
<line x1="287" y1="283.65" x2="287" y2="286.85" stroke="#e83030" stroke-width="0.8" />
<line x1="291" y1="290.74468085106383" x2="291" y2="293.9446808510639" stroke="#e83030" stroke-width="0.8" />
<line x1="296" y1="296.1052631578947" x2="296" y2="299.30526315789473" stroke="#e83030" stroke-width="0.8" />
<line x1="300" y1="298.14035087719293" x2="300" y2="301.340350877193" stroke="#e83030" stroke-width="0.8" />
<line x1="304" y1="301.525641025641" x2="304" y2="304.72564102564104" stroke="#e83030" stroke-width="0.8" />
<line x1="308" y1="302.79999999999995" x2="308" y2="306.0" stroke="#e83030" stroke-width="0.8" />
<line x1="312" y1="304.09999999999997" x2="312" y2="307.3" stroke="#e83030" stroke-width="0.8" />
<line x1="316" y1="307.29999999999995" x2="316" y2="310.5" stroke="#e83030" stroke-width="0.8" />
<line x1="319" y1="308.5666666666666" x2="319" y2="311.76666666666665" stroke="#e83030" stroke-width="0.8" />
<line x1="323" y1="311.6" x2="323" y2="314.80000000000007" stroke="#e83030" stroke-width="0.8" />
<line x1="326" y1="314.03999999999996" x2="326" y2="317.24" stroke="#e83030" stroke-width="0.8" />
<line x1="329" y1="315.7055555555555" x2="329" y2="318.90555555555557" stroke="#e83030" stroke-width="0.8" />
<line x1="333" y1="317.59999999999997" x2="333" y2="320.8" stroke="#e83030" stroke-width="0.8" />
<line x1="335.7" y1="317.59999999999997" x2="335.7" y2="320.8" stroke="#e83030" stroke-width="0.8" />
<line x1="338" y1="317.59999999999997" x2="338" y2="320.8" stroke="#e83030" stroke-width="0.8" />
<line x1="341" y1="317.59999999999997" x2="341" y2="320.8" stroke="#e83030" stroke-width="0.8" />
<line x1="344" y1="317.59999999999997" x2="344" y2="320.8" stroke="#e83030" stroke-width="0.8" />
<line x1="347" y1="317.59999999999997" x2="347" y2="320.8" stroke="#e83030" stroke-width="0.8" />
<line x1="359.7" y1="336.4" x2="359.7" y2="339.6" stroke="#e83030" stroke-width="0.8" />
<line x1="393.5" y1="350.29999999999995" x2="393.5" y2="353.5" stroke="#e83030" stroke-width="0.8" />
<line x1="284" y1="263.2833333333333" x2="284" y2="266.48333333333335" stroke="#2a2ad2" stroke-width="0.8" />
<line x1="291" y1="272.25" x2="291" y2="275.45000000000005" stroke="#2a2ad2" stroke-width="0.8" />
<line x1="296" y1="276.025" x2="296" y2="279.225" stroke="#2a2ad2" stroke-width="0.8" />
<line x1="300" y1="278.1375" x2="300" y2="281.33750000000003" stroke="#2a2ad2" stroke-width="0.8" />
<line x1="304" y1="280.3666666666666" x2="304" y2="283.56666666666666" stroke="#2a2ad2" stroke-width="0.8" />
<line x1="309" y1="285.3666666666666" x2="309" y2="288.56666666666666" stroke="#2a2ad2" stroke-width="0.8" />
<line x1="313" y1="288.1666666666667" x2="313" y2="291.36666666666673" stroke="#2a2ad2" stroke-width="0.8" />
<line x1="318" y1="291.325" x2="318" y2="294.52500000000003" stroke="#2a2ad2" stroke-width="0.8" />
<line x1="322" y1="293.0199999999999" x2="322" y2="296.21999999999997" stroke="#2a2ad2" stroke-width="0.8" />
<line x1="327" y1="298.6166666666667" x2="327" y2="301.8166666666667" stroke="#2a2ad2" stroke-width="0.8" />
<line x1="331" y1="299.7" x2="331" y2="302.90000000000003" stroke="#2a2ad2" stroke-width="0.8" />
<line x1="335" y1="299.7" x2="335" y2="302.90000000000003" stroke="#2a2ad2" stroke-width="0.8" />
<line x1="342" y1="307.0" x2="342" y2="310.20000000000005" stroke="#2a2ad2" stroke-width="0.8" />
<line x1="345" y1="307.0" x2="345" y2="310.20000000000005" stroke="#2a2ad2" stroke-width="0.8" />
<line x1="352" y1="312.7" x2="352" y2="315.90000000000003" stroke="#2a2ad2" stroke-width="0.8" />
<line x1="360.6" y1="320.09999999999997" x2="360.6" y2="323.3" stroke="#2a2ad2" stroke-width="0.8" />
<line x1="380.7" y1="331.0" x2="380.7" y2="334.20000000000005" stroke="#2a2ad2" stroke-width="0.8" />
<line x1="385.5" y1="331.0" x2="385.5" y2="334.20000000000005" stroke="#2a2ad2" stroke-width="0.8" />
<line x1="343.8" y1="250.3" x2="353.6" y2="250.3" stroke="#2a2ad2" stroke-width="1.2" />
<line x1="343.8" y1="256.1" x2="353.6" y2="256.1" stroke="#e83030" stroke-width="1.2" />
<text x="355.6" y="252.3" font-size="5.7" font-family="Liberation Sans" fill="#000" text-anchor="start" font-weight="normal" >Low E2F1 TPM</text>
<text x="355.6" y="258.1" font-size="5.7" font-family="Liberation Sans" fill="#000" text-anchor="start" font-weight="normal" >High E2F1 TPM</text>
<text x="394.4" y="264.1" font-size="5.6" font-family="Liberation Sans" fill="#000" text-anchor="end" font-weight="normal" stroke="#000" stroke-width="0.1">Logrank p=0.0025</text>
<text x="394.4" y="270.8" font-size="5.6" font-family="Liberation Sans" fill="#000" text-anchor="end" font-weight="normal" stroke="#000" stroke-width="0.1">HR(high)=1.7</text>
<text x="394.4" y="277.5" font-size="5.6" font-family="Liberation Sans" fill="#000" text-anchor="end" font-weight="normal" stroke="#000" stroke-width="0.1">p(HR)=0.0027</text>
<text x="394.4" y="284.20000000000005" font-size="5.6" font-family="Liberation Sans" fill="#000" text-anchor="end" font-weight="normal" stroke="#000" stroke-width="0.1">n(high)=182</text>
<text x="394.4" y="290.90000000000003" font-size="5.6" font-family="Liberation Sans" fill="#000" text-anchor="end" font-weight="normal" stroke="#000" stroke-width="0.1">n(low)=182</text>
<rect x="264.7" y="401.2" width="133.8" height="126.19999999999999" stroke="#555" stroke-width="0.75" fill="none" />
<line x1="261.7" y1="522.6" x2="264.7" y2="522.6" stroke="#555" stroke-width="0.7" />
<text transform="translate(257.3,522.6) rotate(-90)" font-size="6.2" font-family="Liberation Sans" text-anchor="middle" fill="#222">0.0</text>
<line x1="261.7" y1="499.28000000000003" x2="264.7" y2="499.28000000000003" stroke="#555" stroke-width="0.7" />
<text transform="translate(257.3,499.28000000000003) rotate(-90)" font-size="6.2" font-family="Liberation Sans" text-anchor="middle" fill="#222">0.2</text>
<line x1="261.7" y1="475.96000000000004" x2="264.7" y2="475.96000000000004" stroke="#555" stroke-width="0.7" />
<text transform="translate(257.3,475.96000000000004) rotate(-90)" font-size="6.2" font-family="Liberation Sans" text-anchor="middle" fill="#222">0.4</text>
<line x1="261.7" y1="452.64" x2="264.7" y2="452.64" stroke="#555" stroke-width="0.7" />
<text transform="translate(257.3,452.64) rotate(-90)" font-size="6.2" font-family="Liberation Sans" text-anchor="middle" fill="#222">0.6</text>
<line x1="261.7" y1="429.32" x2="264.7" y2="429.32" stroke="#555" stroke-width="0.7" />
<text transform="translate(257.3,429.32) rotate(-90)" font-size="6.2" font-family="Liberation Sans" text-anchor="middle" fill="#222">0.8</text>
<line x1="261.7" y1="406.0" x2="264.7" y2="406.0" stroke="#555" stroke-width="0.7" />
<text transform="translate(257.3,406.0) rotate(-90)" font-size="6.2" font-family="Liberation Sans" text-anchor="middle" fill="#222">1.0</text>
<line x1="264.7" y1="527.4" x2="264.7" y2="530.0" stroke="#555" stroke-width="0.7" />
<text x="264.7" y="539.0" font-size="6.2" font-family="Liberation Sans" fill="#222" text-anchor="middle" font-weight="normal" >0</text>
<line x1="285.46666666666664" y1="527.4" x2="285.46666666666664" y2="530.0" stroke="#555" stroke-width="0.7" />
<text x="285.46666666666664" y="539.0" font-size="6.2" font-family="Liberation Sans" fill="#222" text-anchor="middle" font-weight="normal" >20</text>
<line x1="306.23333333333335" y1="527.4" x2="306.23333333333335" y2="530.0" stroke="#555" stroke-width="0.7" />
<text x="306.23333333333335" y="539.0" font-size="6.2" font-family="Liberation Sans" fill="#222" text-anchor="middle" font-weight="normal" >40</text>
<line x1="327.0" y1="527.4" x2="327.0" y2="530.0" stroke="#555" stroke-width="0.7" />
<text x="327.0" y="539.0" font-size="6.2" font-family="Liberation Sans" fill="#222" text-anchor="middle" font-weight="normal" >60</text>
<line x1="347.76666666666665" y1="527.4" x2="347.76666666666665" y2="530.0" stroke="#555" stroke-width="0.7" />
<text x="347.76666666666665" y="539.0" font-size="6.2" font-family="Liberation Sans" fill="#222" text-anchor="middle" font-weight="normal" >80</text>
<line x1="368.5333333333333" y1="527.4" x2="368.5333333333333" y2="530.0" stroke="#555" stroke-width="0.7" />
<text x="368.5333333333333" y="539.0" font-size="6.2" font-family="Liberation Sans" fill="#222" text-anchor="middle" font-weight="normal" >100</text>
<line x1="389.3" y1="527.4" x2="389.3" y2="530.0" stroke="#555" stroke-width="0.7" />
<text x="389.3" y="539.0" font-size="6.2" font-family="Liberation Sans" fill="#222" text-anchor="middle" font-weight="normal" >120</text>
<text x="331.6" y="547.0" font-size="8.3" font-family="Liberation Sans" fill="#000" text-anchor="middle" font-weight="normal" >Months</text>
<text transform="translate(246.2,464.3) rotate(-90)" font-size="8" font-family="Liberation Sans" text-anchor="middle">Percent survival</text>
<text x="330.6" y="399.6" font-size="7.4" font-family="Liberation Serif" fill="#000" text-anchor="middle" font-weight="normal" >Overall survival of NCAPG2</text>
<polyline points="265.0,405.7 267.0,405.7 267.0,406.4 267.7,406.4 267.7,406.7 269.0,406.7 269.0,407.4 271.0,407.4 271.0,408.6 273.0,408.6 273.0,409.7 275.0,409.7 275.0,410.9 277.0,410.9 277.0,412.0 279.0,412.0 279.0,413.2 281.0,413.2 281.0,414.3 281.1,414.3 281.1,414.4 283.0,414.4 283.0,415.4 285.0,415.4 285.0,416.5 287.0,416.5 287.0,417.6 289.0,417.6 289.0,418.7 291.0,418.7 291.0,419.8 293.0,419.8 293.0,420.9 295.0,420.9 295.0,422.0 297.0,422.0 297.0,423.1 299.0,423.1 299.0,424.2 300.3,424.2 300.3,424.9 301.0,424.9 301.0,425.3 303.0,425.3 303.0,426.6 305.0,426.6 305.0,427.8 307.0,427.8 307.0,429.1 309.0,429.1 309.0,430.3 311.0,430.3 311.0,431.5 313.0,431.5 313.0,432.8 315.0,432.8 315.0,434.0 315.6,434.0 315.6,434.4 317.0,434.4 317.0,435.3 319.0,435.3 319.0,436.7 321.0,436.7 321.0,438.0 323.0,438.0 323.0,439.4 325.0,439.4 325.0,440.7 327.0,440.7 327.0,442.0 327.1,442.0 327.1,442.1 329.0,442.1 329.0,442.4 331.0,442.4 331.0,442.7 333.0,442.7 333.0,443.1 335.0,443.1 335.0,443.4 337.0,443.4 337.0,443.7 338.6,443.7 338.6,444.0 339.0,444.0 339.0,444.1 341.0,444.1 341.0,444.7 343.0,444.7 343.0,445.3 345.0,445.3 345.0,445.9 347.0,445.9 347.0,446.5 349.0,446.5 349.0,447.1 350.0,447.1 350.0,447.4 351.0,447.4 351.0,450.3 353.0,450.3 353.0,456.0 353.1,456.0 353.1,456.3 355.0,456.3 357.0,456.3 359.0,456.3 361.0,456.3 363.0,456.3 365.0,456.3 367.0,456.3 369.0,456.3 371.0,456.3 373.0,456.3 374.3,456.3 375.0,456.3 375.0,459.2 375.1,459.2 375.1,459.6 377.0,459.6 379.0,459.6 379.2,459.6 381.0,459.6 381.0,463.7 383.0,463.7 385.0,463.7 386.6,463.7" fill="none" stroke="#b4b4cc" stroke-width="0.85" stroke-dasharray="1,0.9"/>
<polyline points="265.0,405.7 267.0,405.7 267.0,409.2 269.0,409.2 269.0,412.7 271.0,412.7 271.0,416.2 271.6,416.2 271.6,417.2 273.0,417.2 273.0,418.7 275.0,418.7 275.0,421.0 277.0,421.0 277.0,423.2 279.0,423.2 279.0,425.4 281.0,425.4 281.0,427.6 283.0,427.6 283.0,429.8 285.0,429.8 285.0,432.0 287.0,432.0 287.0,434.2 289.0,434.2 289.0,436.4 290.7,436.4 290.7,438.3 291.0,438.3 291.0,438.5 293.0,438.5 293.0,440.1 295.0,440.1 295.0,441.7 297.0,441.7 297.0,443.3 299.0,443.3 299.0,444.9 301.0,444.9 301.0,446.6 303.0,446.6 303.0,448.2 305.0,448.2 305.0,449.8 307.0,449.8 307.0,451.4 309.0,451.4 309.0,453.0 309.8,453.0 309.8,453.6 311.0,453.6 311.0,454.3 313.0,454.3 313.0,455.6 315.0,455.6 315.0,456.8 317.0,456.8 317.0,458.1 319.0,458.1 319.0,459.3 321.0,459.3 321.0,460.6 323.0,460.6 323.0,461.8 325.0,461.8 325.0,463.1 325.2,463.1 325.2,463.2 327.0,463.2 327.0,463.5 329.0,463.5 329.0,463.9 331.0,463.9 331.0,464.3 333.0,464.3 333.0,464.7 335.0,464.7 335.0,465.1 337.0,465.1 337.0,465.4 339.0,465.4 339.0,465.8 340.0,465.8 340.0,466.0 341.0,466.0 341.0,466.1 343.0,466.1 343.0,466.2 345.0,466.2 345.0,466.4 347.0,466.4 347.0,466.6 349.0,466.6 349.0,466.8 351.0,466.8 351.0,466.9 352.0,466.9 352.0,467.0 353.0,467.0 353.0,451.4 353.1,451.4 353.1,449.8" fill="none" stroke="#d4aab2" stroke-width="0.85" stroke-dasharray="1,0.9"/>
<polyline points="265.0,405.7 267.0,405.7 267.0,408.2 269.0,408.2 269.0,410.6 269.7,410.6 269.7,411.5 271.0,411.5 271.0,413.1 273.0,413.1 273.0,415.5 275.0,415.5 275.0,418.0 277.0,418.0 277.0,420.4 279.0,420.4 279.0,422.9 281.0,422.9 281.0,425.3 283.0,425.3 283.0,427.7 285.0,427.7 285.0,430.2 286.9,430.2 286.9,432.5 287.0,432.5 287.0,432.6 289.0,432.6 289.0,433.7 291.0,433.7 291.0,434.9 293.0,434.9 293.0,436.0 295.0,436.0 295.0,437.2 297.0,437.2 297.0,438.3 299.0,438.3 299.0,439.5 300.3,439.5 300.3,440.2 301.0,440.2 301.0,440.8 303.0,440.8 303.0,442.4 305.0,442.4 305.0,444.0 307.0,444.0 307.0,445.6 309.0,445.6 309.0,447.2 311.0,447.2 311.0,448.8 313.0,448.8 313.0,450.4 315.0,450.4 315.0,452.0 317.0,452.0 317.0,453.6 319.0,453.6 319.0,455.2 319.4,455.2 319.4,455.5 321.0,455.5 321.0,457.1 323.0,457.1 323.0,459.1 325.0,459.1 325.0,461.1 327.0,461.1 327.0,463.1 329.0,463.1 329.0,465.1 331.0,465.1 331.0,465.7 333.0,465.7 333.0,466.3 335.0,466.3 335.0,466.9 337.0,466.9 337.0,467.4 339.0,467.4 339.0,468.0 341.0,468.0 341.0,468.6 342.0,468.6 342.0,468.9 343.0,468.9 343.0,469.0 345.0,469.0 345.0,469.3 347.0,469.3 347.0,469.5 349.0,469.5 349.0,469.8 351.0,469.8 351.0,470.0 353.0,470.0 353.0,492.9 353.1,492.9 353.1,494.0 355.0,494.0 357.0,494.0 359.0,494.0 361.0,494.0 363.0,494.0 365.0,494.0 367.0,494.0 369.0,494.0 371.0,494.0 373.0,494.0 374.3,494.0 375.0,494.0 375.0,503.8 377.0,503.8 379.0,503.8 379.2,503.8 381.0,503.8 381.0,511.9 383.0,511.9 385.0,511.9" fill="none" stroke="#b4b4cc" stroke-width="0.85" stroke-dasharray="1,0.9"/>
<polyline points="265.0,405.7 267.0,405.7 267.0,412.2 269.0,412.2 269.0,418.7 269.7,418.7 269.7,421.0 271.0,421.0 271.0,423.6 273.0,423.6 273.0,427.7 275.0,427.7 275.0,431.7 277.0,431.7 277.0,435.7 279.0,435.7 279.0,439.8 281.0,439.8 281.0,443.8 281.1,443.8 281.1,444.0 283.0,444.0 283.0,446.7 285.0,446.7 285.0,449.4 287.0,449.4 287.0,452.2 289.0,452.2 289.0,455.0 290.7,455.0 290.7,457.4 291.0,457.4 291.0,457.6 293.0,457.6 293.0,459.0 295.0,459.0 295.0,460.4 297.0,460.4 297.0,461.8 299.0,461.8 299.0,463.2 301.0,463.2 301.0,464.6 303.0,464.6 303.0,466.0 305.0,466.0 305.0,467.4 307.0,467.4 307.0,468.8 309.0,468.8 309.0,470.2 309.8,470.2 309.8,470.8 311.0,470.8 311.0,471.5 313.0,471.5 313.0,472.6 315.0,472.6 315.0,473.8 317.0,473.8 317.0,474.9 319.0,474.9 319.0,476.1 321.0,476.1 321.0,477.2 323.0,477.2 323.0,478.4 323.2,478.4 323.2,478.5 325.0,478.5 325.0,480.9 327.0,480.9 327.0,483.5 329.0,483.5 329.0,486.1 331.0,486.1 333.0,486.1 335.0,486.1 337.0,486.1 339.0,486.1 341.0,486.1 342.0,486.1 343.0,486.1 343.0,486.2 345.0,486.2 345.0,486.4 347.0,486.4 347.0,486.6 349.0,486.6 349.0,486.7 351.0,486.7 351.0,486.9 352.0,486.9 352.0,487.0 353.0,487.0 353.0,514.1 353.1,514.1 353.1,516.8 355.0,516.8 357.0,516.8 359.0,516.8 361.0,516.8 363.0,516.8 365.0,516.8 367.0,516.8 369.0,516.8 371.0,516.8 373.0,516.8 375.0,516.8 377.0,516.8 379.0,516.8 381.0,516.8 383.0,516.8 385.0,516.8 387.0,516.8 389.0,516.8 391.0,516.8 393.0,516.8 394.0,516.8" fill="none" stroke="#d4aab2" stroke-width="0.85" stroke-dasharray="1,0.9"/>
<polyline points="265.0,405.7 266.5,405.7 266.5,407.8 267.4,407.8 267.4,409.0 268.0,409.0 268.0,410.8 269.2,410.8 269.2,414.4 269.5,414.4 269.5,415.1 271.0,415.1 271.0,418.8 271.6,418.8 271.6,420.3 272.5,420.3 272.5,421.6 274.0,421.6 274.0,423.9 275.5,423.9 275.5,427.7 276.4,427.7 276.4,429.9 277.0,429.9 277.0,431.5 278.5,431.5 278.5,435.4 278.7,435.4 278.7,435.9 280.0,435.9 280.0,438.0 281.5,438.0 281.5,440.4 281.7,440.4 281.7,440.7 283.0,440.7 283.0,441.1 284.5,441.1 284.5,441.6 285.3,441.6 285.3,441.9 286.0,441.9 286.0,442.9 287.5,442.9 287.5,445.2 287.7,445.2 287.7,445.5 289.0,445.5 289.0,447.9 290.1,447.9 290.1,450.0 290.5,450.0 290.5,450.5 292.0,450.5 292.0,452.3 293.5,452.3 293.5,454.2 295.0,454.2 295.0,456.0 296.5,456.0 296.5,457.2 298.0,457.2 298.0,458.4 299.5,458.4 299.5,459.6 300.0,459.6 300.0,460.0 301.0,460.0 301.0,460.5 302.5,460.5 302.5,461.1 304.0,461.1 304.0,461.8 305.0,461.8 305.0,462.3 305.5,462.3 305.5,462.6 307.0,462.6 307.0,463.3 308.5,463.3 308.5,464.1 309.8,464.1 309.8,464.7 310.0,464.7 310.0,464.8 311.5,464.8 311.5,465.6 313.0,465.6 313.0,466.3 314.5,466.3 314.5,467.1 314.6,467.1 314.6,467.1 316.0,467.1 316.0,467.8 317.5,467.8 317.5,468.6 319.0,468.6 319.0,469.3 319.4,469.3 319.4,469.5 320.5,469.5 320.5,470.1 322.0,470.1 322.0,470.8 323.5,470.8 323.5,471.6 324.1,471.6 324.1,471.9 325.0,471.9 325.0,472.0 326.5,472.0 326.5,472.2 328.0,472.2 328.0,472.4 328.9,472.4 328.9,472.5 329.5,472.5 329.5,473.8 330.1,473.8 330.1,475.1 331.0,475.1 332.5,475.1 334.0,475.1 335.5,475.1 337.0,475.1 338.5,475.1 340.0,475.1 341.5,475.1 343.0,475.1 344.5,475.1 346.0,475.1 347.5,475.1 349.0,475.1 350.5,475.1 352.0,475.1 352.8,475.1 353.1,475.1 353.1,498.9 353.5,498.9 355.0,498.9 356.5,498.9 358.0,498.9 359.5,498.9 361.0,498.9 362.5,498.9 364.0,498.9 365.5,498.9 367.0,498.9 368.5,498.9 370.0,498.9 371.5,498.9 373.0,498.9 374.5,498.9 376.0,498.9 377.5,498.9 379.0,498.9 380.5,498.9 382.0,498.9 383.5,498.9 385.0,498.9 386.5,498.9 388.0,498.9 389.5,498.9 391.0,498.9 392.5,498.9 393.1,498.9" fill="none" stroke="#e83030" stroke-width="1.25" stroke-linejoin="miter"/>
<polyline points="265.0,405.7 266.5,405.7 266.5,408.2 268.0,408.2 268.0,410.8 269.5,410.8 269.5,411.3 271.0,411.3 271.0,411.8 271.6,411.8 271.6,412.0 272.5,412.0 272.5,412.7 274.0,412.7 274.0,413.8 275.5,413.8 275.5,414.9 276.4,414.9 276.4,415.6 277.0,415.6 277.0,416.0 278.5,416.0 278.5,417.1 280.0,417.1 280.0,418.1 281.5,418.1 281.5,419.1 282.3,419.1 282.3,419.7 283.0,419.7 283.0,420.4 284.1,420.4 284.1,421.5 284.5,421.5 284.5,422.3 285.9,422.3 285.9,425.1 286.0,425.1 286.0,425.2 287.5,425.2 287.5,426.7 289.0,426.7 289.0,428.2 289.5,428.2 289.5,428.7 290.5,428.7 290.5,429.2 292.0,429.2 292.0,429.9 293.5,429.9 293.5,430.7 294.3,430.7 294.3,431.1 295.0,431.1 295.0,431.3 296.5,431.3 296.5,431.8 297.9,431.8 297.9,432.3 298.0,432.3 299.5,432.3 299.5,432.9 301.0,432.9 301.0,433.5 302.5,433.5 302.5,434.0 302.7,434.0 302.7,434.1 304.0,434.1 304.0,435.2 305.0,435.2 305.0,436.0 305.5,436.0 305.5,436.4 307.0,436.4 307.0,437.7 308.5,437.7 308.5,438.9 308.6,438.9 308.6,439.0 310.0,439.0 310.0,440.2 311.5,440.2 311.5,441.4 312.2,441.4 312.2,442.0 313.0,442.0 313.0,443.0 314.5,443.0 314.5,445.0 315.8,445.0 315.8,446.7 316.0,446.7 316.0,446.8 317.5,446.8 317.5,447.1 319.0,447.1 319.0,447.5 320.5,447.5 320.5,447.9 320.6,447.9 322.0,447.9 322.0,449.9 323.5,449.9 323.5,452.1 325.0,452.1 325.0,454.4 325.9,454.4 325.9,455.7 326.5,455.7 326.5,456.2 328.0,456.2 328.0,457.4 328.9,457.4 328.9,458.1 329.5,458.1 331.0,458.1 332.5,458.1 334.0,458.1 335.5,458.1 337.0,458.1 338.5,458.1 340.0,458.1 340.0,463.4 340.3,463.4 340.3,464.5 341.5,464.5 343.0,464.5 344.5,464.5 346.0,464.5 347.5,464.5 349.0,464.5 349.8,464.5 350.5,464.5 350.5,469.5 350.6,469.5 350.6,470.2 351.4,470.2 351.4,474.3 352.0,474.3 352.0,474.6 352.8,474.6 352.8,475.1 353.1,475.1 353.1,480.0 353.5,480.0 355.0,480.0 356.5,480.0 358.0,480.0 359.5,480.0 361.0,480.0 362.5,480.0 364.0,480.0 365.5,480.0 367.0,480.0 368.5,480.0 370.0,480.0 371.5,480.0 373.0,480.0 374.3,480.0 374.5,480.0 374.5,484.1 374.7,484.1 374.7,488.2 376.0,488.2 377.5,488.2 378.4,488.2 378.9,488.2 378.9,497.2 379.0,497.2 380.5,497.2 382.0,497.2 383.5,497.2 385.0,497.2 386.5,497.2 386.6,497.2" fill="none" stroke="#2a2ad2" stroke-width="1.25" stroke-linejoin="miter"/>
<line x1="282" y1="439.2" x2="282" y2="442.40000000000003" stroke="#e83030" stroke-width="0.8" />
<line x1="287" y1="442.84999999999997" x2="287" y2="446.05" stroke="#e83030" stroke-width="0.8" />
<line x1="292" y1="450.72653061224486" x2="292" y2="453.9265306122449" stroke="#e83030" stroke-width="0.8" />
<line x1="297" y1="456.0" x2="297" y2="459.20000000000005" stroke="#e83030" stroke-width="0.8" />
<line x1="300" y1="458.4" x2="300" y2="461.6" stroke="#e83030" stroke-width="0.8" />
<line x1="304" y1="460.24" x2="304" y2="463.44000000000005" stroke="#e83030" stroke-width="0.8" />
<line x1="307" y1="461.7" x2="307" y2="464.90000000000003" stroke="#e83030" stroke-width="0.8" />
<line x1="310" y1="463.2" x2="310" y2="466.40000000000003" stroke="#e83030" stroke-width="0.8" />
<line x1="314" y1="465.2" x2="314" y2="468.40000000000003" stroke="#e83030" stroke-width="0.8" />
<line x1="318" y1="467.2" x2="318" y2="470.40000000000003" stroke="#e83030" stroke-width="0.8" />
<line x1="322" y1="469.227659574468" x2="322" y2="472.42765957446807" stroke="#e83030" stroke-width="0.8" />
<line x1="326" y1="470.53749999999997" x2="326" y2="473.7375" stroke="#e83030" stroke-width="0.8" />
<line x1="329" y1="471.1166666666667" x2="329" y2="474.3166666666667" stroke="#e83030" stroke-width="0.8" />
<line x1="332" y1="473.5" x2="332" y2="476.70000000000005" stroke="#e83030" stroke-width="0.8" />
<line x1="336" y1="473.5" x2="336" y2="476.70000000000005" stroke="#e83030" stroke-width="0.8" />
<line x1="340" y1="473.5" x2="340" y2="476.70000000000005" stroke="#e83030" stroke-width="0.8" />
<line x1="343" y1="473.5" x2="343" y2="476.70000000000005" stroke="#e83030" stroke-width="0.8" />
<line x1="346" y1="473.5" x2="346" y2="476.70000000000005" stroke="#e83030" stroke-width="0.8" />
<line x1="349" y1="473.5" x2="349" y2="476.70000000000005" stroke="#e83030" stroke-width="0.8" />
<line x1="393" y1="497.29999999999995" x2="393" y2="500.5" stroke="#e83030" stroke-width="0.8" />
<line x1="283" y1="418.79999999999995" x2="283" y2="422.0" stroke="#2a2ad2" stroke-width="0.8" />
<line x1="290" y1="427.34999999999997" x2="290" y2="430.55" stroke="#2a2ad2" stroke-width="0.8" />
<line x1="295" y1="429.73333333333335" x2="295" y2="432.9333333333334" stroke="#2a2ad2" stroke-width="0.8" />
<line x1="299" y1="431.1125" x2="299" y2="434.31250000000006" stroke="#2a2ad2" stroke-width="0.8" />
<line x1="303" y1="432.74782608695654" x2="303" y2="435.9478260869566" stroke="#2a2ad2" stroke-width="0.8" />
<line x1="307" y1="436.0666666666666" x2="307" y2="439.26666666666665" stroke="#2a2ad2" stroke-width="0.8" />
<line x1="311" y1="439.4" x2="311" y2="442.6" stroke="#2a2ad2" stroke-width="0.8" />
<line x1="317" y1="445.4" x2="317" y2="448.6" stroke="#2a2ad2" stroke-width="0.8" />
<line x1="321" y1="446.8793103448275" x2="321" y2="450.07931034482755" stroke="#2a2ad2" stroke-width="0.8" />
<line x1="326" y1="454.18" x2="326" y2="457.38000000000005" stroke="#2a2ad2" stroke-width="0.8" />
<line x1="331" y1="456.5" x2="331" y2="459.70000000000005" stroke="#2a2ad2" stroke-width="0.8" />
<line x1="336" y1="456.5" x2="336" y2="459.70000000000005" stroke="#2a2ad2" stroke-width="0.8" />
<line x1="339" y1="458.27777777777777" x2="339" y2="461.4777777777778" stroke="#2a2ad2" stroke-width="0.8" />
<line x1="344.7" y1="462.9" x2="344.7" y2="466.1" stroke="#2a2ad2" stroke-width="0.8" />
<line x1="348" y1="462.9" x2="348" y2="466.1" stroke="#2a2ad2" stroke-width="0.8" />
<line x1="352" y1="473.04285714285714" x2="352" y2="476.2428571428572" stroke="#2a2ad2" stroke-width="0.8" />
<line x1="360.6" y1="478.4" x2="360.6" y2="481.6" stroke="#2a2ad2" stroke-width="0.8" />
<line x1="380.5" y1="495.59999999999997" x2="380.5" y2="498.8" stroke="#2a2ad2" stroke-width="0.8" />
<line x1="385" y1="495.59999999999997" x2="385" y2="498.8" stroke="#2a2ad2" stroke-width="0.8" />
<line x1="334.3" y1="407.0" x2="344.3" y2="407.0" stroke="#2a2ad2" stroke-width="1.2" />
<line x1="334.3" y1="412.8" x2="344.3" y2="412.8" stroke="#e83030" stroke-width="1.2" />
<text x="346.2" y="409.0" font-size="5.7" font-family="Liberation Sans" fill="#000" text-anchor="start" font-weight="normal" >Low NCAPG2 TPM</text>
<text x="346.2" y="414.8" font-size="5.7" font-family="Liberation Sans" fill="#000" text-anchor="start" font-weight="normal" >High NCAPG2 TPM</text>
<text x="394.4" y="420.8" font-size="5.6" font-family="Liberation Sans" fill="#000" text-anchor="end" font-weight="normal" stroke="#000" stroke-width="0.1">Logrank p=0.00085</text>
<text x="394.4" y="427.5" font-size="5.6" font-family="Liberation Sans" fill="#000" text-anchor="end" font-weight="normal" stroke="#000" stroke-width="0.1">HR(high)=1.6</text>
<text x="394.4" y="434.2" font-size="5.6" font-family="Liberation Sans" fill="#000" text-anchor="end" font-weight="normal" stroke="#000" stroke-width="0.1">p(HR)=0.00097</text>
<text x="394.4" y="440.90000000000003" font-size="5.6" font-family="Liberation Sans" fill="#000" text-anchor="end" font-weight="normal" stroke="#000" stroke-width="0.1">n(high)=181</text>
<text x="394.4" y="447.6" font-size="5.6" font-family="Liberation Sans" fill="#000" text-anchor="end" font-weight="normal" stroke="#000" stroke-width="0.1">n(low)=181</text>
</svg></body></html>
